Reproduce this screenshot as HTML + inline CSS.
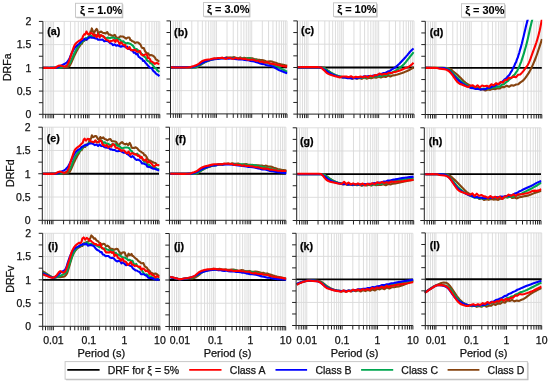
<!DOCTYPE html>
<html><head><meta charset="utf-8"><style>
html,body{margin:0;padding:0;background:#fff;}
svg{display:block;}
text{font-family:"Liberation Sans",Arial,sans-serif;fill:#111;stroke:#111;stroke-width:0.25px;}
.pl{font-size:10.7px;font-weight:bold;fill:#000;stroke:#000;}
.yl{font-size:10.5px;text-anchor:end;}
.yt{font-size:10.6px;text-anchor:middle;}
.xl{font-size:10.5px;text-anchor:middle;}
.pd{font-size:11px;}
.tt{font-size:10.95px;font-weight:bold;text-anchor:middle;fill:#000;stroke:#000;stroke-width:0.1px;}
.lg{font-size:10.5px;}
</style></head><body>
<svg width="550" height="384" viewBox="0 0 550 384">
<defs><clipPath id="cpa"><rect x="41.90" y="19.90" width="118.40" height="93.90"/></clipPath><clipPath id="cpb"><rect x="169.50" y="19.40" width="118.00" height="94.00"/></clipPath><clipPath id="cpc"><rect x="296.30" y="19.40" width="118.20" height="94.20"/></clipPath><clipPath id="cpd"><rect x="424.30" y="19.80" width="118.00" height="94.20"/></clipPath><clipPath id="cpe"><rect x="41.30" y="125.70" width="118.20" height="94.10"/></clipPath><clipPath id="cpf"><rect x="168.50" y="125.70" width="117.90" height="94.10"/></clipPath><clipPath id="cpg"><rect x="295.70" y="126.30" width="118.50" height="93.70"/></clipPath><clipPath id="cph"><rect x="423.30" y="126.30" width="118.20" height="93.70"/></clipPath><clipPath id="cpi"><rect x="41.70" y="231.80" width="118.70" height="94.00"/></clipPath><clipPath id="cpj"><rect x="168.30" y="232.00" width="117.90" height="94.00"/></clipPath><clipPath id="cpk"><rect x="295.10" y="231.80" width="118.30" height="93.20"/></clipPath><clipPath id="cpl"><rect x="424.30" y="231.40" width="117.90" height="93.70"/></clipPath></defs>
<rect width="550" height="384" fill="#fff"/>
<path d="M45.70 21.40V114.30M48.07 21.40V114.30M50.13 21.40V114.30M51.94 21.40V114.30M53.56 21.40V114.30M64.22 21.40V114.30M70.46 21.40V114.30M74.88 21.40V114.30M78.31 21.40V114.30M81.12 21.40V114.30M83.49 21.40V114.30M85.54 21.40V114.30M87.35 21.40V114.30M88.97 21.40V114.30M99.63 21.40V114.30M105.87 21.40V114.30M110.29 21.40V114.30M113.73 21.40V114.30M116.53 21.40V114.30M118.90 21.40V114.30M120.95 21.40V114.30M122.77 21.40V114.30M124.39 21.40V114.30M135.05 21.40V114.30M141.28 21.40V114.30M145.71 21.40V114.30M149.14 21.40V114.30M151.94 21.40V114.30M154.31 21.40V114.30M156.37 21.40V114.30M158.18 21.40V114.30M159.80 21.40V114.30M42.90 91.08H159.80M42.90 44.62H159.80M42.90 21.40H159.80" stroke="#d9d9d9" stroke-width="0.9" fill="none"/>
<path d="M173.29 20.90V113.90M175.66 20.90V113.90M177.70 20.90V113.90M179.51 20.90V113.90M181.12 20.90V113.90M191.75 20.90V113.90M197.96 20.90V113.90M202.37 20.90V113.90M205.79 20.90V113.90M208.59 20.90V113.90M210.95 20.90V113.90M213.00 20.90V113.90M214.80 20.90V113.90M216.42 20.90V113.90M227.04 20.90V113.90M233.25 20.90V113.90M237.66 20.90V113.90M241.08 20.90V113.90M243.88 20.90V113.90M246.24 20.90V113.90M248.29 20.90V113.90M250.09 20.90V113.90M251.71 20.90V113.90M262.33 20.90V113.90M268.55 20.90V113.90M272.96 20.90V113.90M276.38 20.90V113.90M279.17 20.90V113.90M281.53 20.90V113.90M283.58 20.90V113.90M285.39 20.90V113.90M287.00 20.90V113.90M170.50 90.65H287.00M170.50 44.15H287.00M170.50 20.90H287.00" stroke="#d9d9d9" stroke-width="0.9" fill="none"/>
<path d="M300.10 20.90V114.10M302.47 20.90V114.10M304.52 20.90V114.10M306.32 20.90V114.10M307.94 20.90V114.10M318.58 20.90V114.10M324.81 20.90V114.10M329.23 20.90V114.10M332.65 20.90V114.10M335.45 20.90V114.10M337.82 20.90V114.10M339.87 20.90V114.10M341.68 20.90V114.10M343.29 20.90V114.10M353.94 20.90V114.10M360.16 20.90V114.10M364.58 20.90V114.10M368.01 20.90V114.10M370.80 20.90V114.10M373.17 20.90V114.10M375.22 20.90V114.10M377.03 20.90V114.10M378.65 20.90V114.10M389.29 20.90V114.10M395.51 20.90V114.10M399.93 20.90V114.10M403.36 20.90V114.10M406.16 20.90V114.10M408.52 20.90V114.10M410.57 20.90V114.10M412.38 20.90V114.10M414.00 20.90V114.10M297.30 90.80H414.00M297.30 44.20H414.00M297.30 20.90H414.00" stroke="#d9d9d9" stroke-width="0.9" fill="none"/>
<path d="M428.09 21.30V114.50M430.46 21.30V114.50M432.50 21.30V114.50M434.31 21.30V114.50M435.92 21.30V114.50M446.55 21.30V114.50M452.76 21.30V114.50M457.17 21.30V114.50M460.59 21.30V114.50M463.39 21.30V114.50M465.75 21.30V114.50M467.80 21.30V114.50M469.60 21.30V114.50M471.22 21.30V114.50M481.84 21.30V114.50M488.05 21.30V114.50M492.46 21.30V114.50M495.88 21.30V114.50M498.68 21.30V114.50M501.04 21.30V114.50M503.09 21.30V114.50M504.89 21.30V114.50M506.51 21.30V114.50M517.13 21.30V114.50M523.35 21.30V114.50M527.76 21.30V114.50M531.18 21.30V114.50M533.97 21.30V114.50M536.33 21.30V114.50M538.38 21.30V114.50M540.19 21.30V114.50M541.80 21.30V114.50M425.30 91.20H541.80M425.30 44.60H541.80M425.30 21.30H541.80" stroke="#d9d9d9" stroke-width="0.9" fill="none"/>
<path d="M45.10 127.20V220.30M47.47 127.20V220.30M49.52 127.20V220.30M51.32 127.20V220.30M52.94 127.20V220.30M63.58 127.20V220.30M69.81 127.20V220.30M74.23 127.20V220.30M77.65 127.20V220.30M80.45 127.20V220.30M82.82 127.20V220.30M84.87 127.20V220.30M86.68 127.20V220.30M88.29 127.20V220.30M98.94 127.20V220.30M105.16 127.20V220.30M109.58 127.20V220.30M113.01 127.20V220.30M115.80 127.20V220.30M118.17 127.20V220.30M120.22 127.20V220.30M122.03 127.20V220.30M123.65 127.20V220.30M134.29 127.20V220.30M140.51 127.20V220.30M144.93 127.20V220.30M148.36 127.20V220.30M151.16 127.20V220.30M153.52 127.20V220.30M155.57 127.20V220.30M157.38 127.20V220.30M159.00 127.20V220.30M42.30 197.03H159.00M42.30 150.47H159.00M42.30 127.20H159.00" stroke="#d9d9d9" stroke-width="0.9" fill="none"/>
<path d="M172.29 127.20V220.30M174.65 127.20V220.30M176.70 127.20V220.30M178.50 127.20V220.30M180.11 127.20V220.30M190.73 127.20V220.30M196.94 127.20V220.30M201.34 127.20V220.30M204.76 127.20V220.30M207.55 127.20V220.30M209.91 127.20V220.30M211.96 127.20V220.30M213.76 127.20V220.30M215.38 127.20V220.30M225.99 127.20V220.30M232.20 127.20V220.30M236.61 127.20V220.30M240.02 127.20V220.30M242.82 127.20V220.30M245.18 127.20V220.30M247.22 127.20V220.30M249.02 127.20V220.30M250.64 127.20V220.30M261.25 127.20V220.30M267.46 127.20V220.30M271.87 127.20V220.30M275.29 127.20V220.30M278.08 127.20V220.30M280.44 127.20V220.30M282.48 127.20V220.30M284.29 127.20V220.30M285.90 127.20V220.30M169.50 197.03H285.90M169.50 150.47H285.90M169.50 127.20H285.90" stroke="#d9d9d9" stroke-width="0.9" fill="none"/>
<path d="M299.51 127.80V220.50M301.88 127.80V220.50M303.93 127.80V220.50M305.75 127.80V220.50M307.37 127.80V220.50M318.04 127.80V220.50M324.28 127.80V220.50M328.71 127.80V220.50M332.14 127.80V220.50M334.95 127.80V220.50M337.32 127.80V220.50M339.38 127.80V220.50M341.19 127.80V220.50M342.81 127.80V220.50M353.48 127.80V220.50M359.72 127.80V220.50M364.15 127.80V220.50M367.59 127.80V220.50M370.39 127.80V220.50M372.77 127.80V220.50M374.82 127.80V220.50M376.63 127.80V220.50M378.26 127.80V220.50M388.93 127.80V220.50M395.17 127.80V220.50M399.60 127.80V220.50M403.03 127.80V220.50M405.84 127.80V220.50M408.21 127.80V220.50M410.27 127.80V220.50M412.08 127.80V220.50M413.70 127.80V220.50M296.70 197.32H413.70M296.70 150.97H413.70M296.70 127.80H413.70" stroke="#d9d9d9" stroke-width="0.9" fill="none"/>
<path d="M427.10 127.80V220.50M429.47 127.80V220.50M431.52 127.80V220.50M433.32 127.80V220.50M434.94 127.80V220.50M445.58 127.80V220.50M451.81 127.80V220.50M456.23 127.80V220.50M459.65 127.80V220.50M462.45 127.80V220.50M464.82 127.80V220.50M466.87 127.80V220.50M468.68 127.80V220.50M470.29 127.80V220.50M480.94 127.80V220.50M487.16 127.80V220.50M491.58 127.80V220.50M495.01 127.80V220.50M497.80 127.80V220.50M500.17 127.80V220.50M502.22 127.80V220.50M504.03 127.80V220.50M505.65 127.80V220.50M516.29 127.80V220.50M522.51 127.80V220.50M526.93 127.80V220.50M530.36 127.80V220.50M533.16 127.80V220.50M535.52 127.80V220.50M537.57 127.80V220.50M539.38 127.80V220.50M541.00 127.80V220.50M424.30 197.32H541.00M424.30 150.97H541.00M424.30 127.80H541.00" stroke="#d9d9d9" stroke-width="0.9" fill="none"/>
<path d="M45.51 233.30V326.30M47.89 233.30V326.30M49.95 233.30V326.30M51.76 233.30V326.30M53.39 233.30V326.30M64.08 233.30V326.30M70.33 233.30V326.30M74.76 233.30V326.30M78.20 233.30V326.30M81.02 233.30V326.30M83.39 233.30V326.30M85.45 233.30V326.30M87.27 233.30V326.30M88.89 233.30V326.30M99.58 233.30V326.30M105.83 233.30V326.30M110.27 233.30V326.30M113.71 233.30V326.30M116.52 233.30V326.30M118.90 233.30V326.30M120.96 233.30V326.30M122.77 233.30V326.30M124.40 233.30V326.30M135.08 233.30V326.30M141.34 233.30V326.30M145.77 233.30V326.30M149.21 233.30V326.30M152.02 233.30V326.30M154.40 233.30V326.30M156.46 233.30V326.30M158.28 233.30V326.30M159.90 233.30V326.30M42.70 303.05H159.90M42.70 256.55H159.90M42.70 233.30H159.90" stroke="#d9d9d9" stroke-width="0.9" fill="none"/>
<path d="M172.09 233.50V326.50M174.45 233.50V326.50M176.50 233.50V326.50M178.30 233.50V326.50M179.91 233.50V326.50M190.53 233.50V326.50M196.74 233.50V326.50M201.14 233.50V326.50M204.56 233.50V326.50M207.35 233.50V326.50M209.71 233.50V326.50M211.76 233.50V326.50M213.56 233.50V326.50M215.18 233.50V326.50M225.79 233.50V326.50M232.00 233.50V326.50M236.41 233.50V326.50M239.82 233.50V326.50M242.62 233.50V326.50M244.98 233.50V326.50M247.02 233.50V326.50M248.82 233.50V326.50M250.44 233.50V326.50M261.05 233.50V326.50M267.26 233.50V326.50M271.67 233.50V326.50M275.09 233.50V326.50M277.88 233.50V326.50M280.24 233.50V326.50M282.28 233.50V326.50M284.09 233.50V326.50M285.70 233.50V326.50M169.30 303.25H285.70M169.30 256.75H285.70M169.30 233.50H285.70" stroke="#d9d9d9" stroke-width="0.9" fill="none"/>
<path d="M298.90 233.30V325.50M301.27 233.30V325.50M303.32 233.30V325.50M305.13 233.30V325.50M306.75 233.30V325.50M317.40 233.30V325.50M323.63 233.30V325.50M328.05 233.30V325.50M331.48 233.30V325.50M334.28 233.30V325.50M336.65 233.30V325.50M338.71 233.30V325.50M340.52 233.30V325.50M342.13 233.30V325.50M352.79 233.30V325.50M359.02 233.30V325.50M363.44 233.30V325.50M366.87 233.30V325.50M369.67 233.30V325.50M372.04 233.30V325.50M374.09 233.30V325.50M375.90 233.30V325.50M377.52 233.30V325.50M388.17 233.30V325.50M394.40 233.30V325.50M398.82 233.30V325.50M402.25 233.30V325.50M405.05 233.30V325.50M407.42 233.30V325.50M409.47 233.30V325.50M411.28 233.30V325.50M412.90 233.30V325.50M296.10 302.45H412.90M296.10 256.35H412.90M296.10 233.30H412.90" stroke="#d9d9d9" stroke-width="0.9" fill="none"/>
<path d="M428.09 232.90V325.60M430.45 232.90V325.60M432.50 232.90V325.60M434.30 232.90V325.60M435.91 232.90V325.60M446.53 232.90V325.60M452.74 232.90V325.60M457.14 232.90V325.60M460.56 232.90V325.60M463.35 232.90V325.60M465.71 232.90V325.60M467.76 232.90V325.60M469.56 232.90V325.60M471.18 232.90V325.60M481.79 232.90V325.60M488.00 232.90V325.60M492.41 232.90V325.60M495.82 232.90V325.60M498.62 232.90V325.60M500.98 232.90V325.60M503.02 232.90V325.60M504.82 232.90V325.60M506.44 232.90V325.60M517.05 232.90V325.60M523.26 232.90V325.60M527.67 232.90V325.60M531.09 232.90V325.60M533.88 232.90V325.60M536.24 232.90V325.60M538.28 232.90V325.60M540.09 232.90V325.60M541.70 232.90V325.60M425.30 302.43H541.70M425.30 256.07H541.70M425.30 232.90H541.70" stroke="#d9d9d9" stroke-width="0.9" fill="none"/>
<path d="M42.90 67.85H159.80" stroke="#000" stroke-width="1.8" fill="none"/>
<path d="M170.50 67.40H287.00" stroke="#000" stroke-width="1.8" fill="none"/>
<path d="M297.30 67.50H414.00" stroke="#000" stroke-width="1.8" fill="none"/>
<path d="M425.30 67.90H541.80" stroke="#000" stroke-width="1.8" fill="none"/>
<path d="M42.30 173.75H159.00" stroke="#000" stroke-width="1.8" fill="none"/>
<path d="M169.50 173.75H285.90" stroke="#000" stroke-width="1.8" fill="none"/>
<path d="M296.70 174.15H413.70" stroke="#000" stroke-width="1.8" fill="none"/>
<path d="M424.30 174.15H541.00" stroke="#000" stroke-width="1.8" fill="none"/>
<path d="M42.70 279.80H159.90" stroke="#000" stroke-width="1.8" fill="none"/>
<path d="M169.30 280.00H285.70" stroke="#000" stroke-width="1.8" fill="none"/>
<path d="M296.10 279.40H412.90" stroke="#000" stroke-width="1.8" fill="none"/>
<path d="M425.30 279.25H541.70" stroke="#000" stroke-width="1.8" fill="none"/>
<path d="M42.78 67.83 L44.38 67.80 L45.98 67.76 L47.58 67.73 L49.18 67.69 L50.78 67.65 L52.38 67.62 L53.98 67.58 L55.58 67.53 L57.18 67.49 L58.78 67.43 L60.38 67.38 L61.97 67.31 L63.57 67.24 L65.17 67.15 L66.76 66.97 L68.32 66.63 L69.69 65.79 L70.46 64.39 L71.16 62.95 L71.82 61.50 L72.46 60.03 L73.09 58.56 L73.73 57.10 L74.40 55.64 L75.09 54.20 L75.79 52.76 L76.54 51.34 L77.31 49.94 L78.09 48.55 L78.90 47.26 L79.75 46.05 L80.67 44.38 L81.66 43.97 L82.74 41.68 L83.88 41.02 L85.06 39.56 L86.30 39.92 L87.68 37.63 L88.84 37.77 L89.43 34.47 L90.03 34.34 L90.55 31.35 L91.09 31.41 L91.79 28.40 L93.04 31.57 L94.01 33.10 L95.38 30.61 L96.61 28.92 L97.40 30.05 L98.13 33.56 L99.66 32.27 L101.18 31.54 L102.75 32.81 L104.30 33.10 L105.70 33.49 L107.20 32.08 L108.75 34.66 L110.24 34.64 L111.66 35.58 L113.18 35.96 L114.74 34.85 L116.18 37.34 L117.35 37.88 L118.71 37.84 L120.13 36.39 L121.59 36.45 L123.16 36.57 L124.67 37.63 L126.19 38.66 L127.77 37.48 L129.34 37.51 L130.44 39.99 L131.29 40.18 L132.23 41.22 L133.47 41.46 L135.06 42.98 L136.64 42.38 L138.13 42.45 L139.40 43.62 L140.62 44.79 L141.79 47.56 L142.90 48.22 L143.87 48.09 L144.86 50.84 L145.88 52.27 L146.95 53.46 L148.16 53.25 L149.55 55.57 L150.99 54.96 L152.41 55.46 L153.74 56.31 L154.85 57.53 L155.96 59.45 L157.23 59.95 L158.58 61.19 L159.38 61.54" stroke="#86430f" stroke-width="2.1" fill="none" stroke-linejoin="round" clip-path="url(#cpa)"/>
<path d="M42.78 67.83 L44.38 67.82 L45.98 67.81 L47.58 67.81 L49.18 67.79 L50.78 67.78 L52.38 67.77 L53.98 67.75 L55.58 67.72 L57.18 67.68 L58.78 67.61 L60.37 67.43 L61.94 67.12 L63.51 66.83 L65.08 66.50 L66.58 65.95 L67.95 65.12 L69.09 64.00 L70.07 62.74 L70.78 61.31 L71.44 59.85 L72.06 58.37 L72.70 56.91 L73.36 55.45 L74.04 54.00 L74.73 52.56 L75.45 51.13 L76.20 49.72 L77.01 48.33 L77.85 46.97 L78.75 45.70 L79.78 44.18 L80.84 43.61 L81.95 41.97 L83.11 41.26 L84.33 39.92 L85.59 38.16 L86.90 38.25 L88.29 37.39 L89.71 36.80 L91.19 36.05 L92.75 36.55 L94.34 36.16 L95.91 34.82 L97.47 35.99 L98.94 34.48 L100.49 35.32 L102.00 36.21 L103.39 36.36 L104.84 37.57 L106.37 38.38 L107.91 37.49 L109.51 38.18 L111.11 37.84 L112.71 37.50 L114.30 37.71 L115.85 39.00 L117.35 38.63 L118.78 39.35 L120.18 39.69 L121.61 42.08 L123.12 41.14 L124.68 42.64 L126.24 43.49 L127.80 42.92 L129.32 43.44 L130.69 43.93 L131.81 44.96 L132.83 45.67 L133.85 47.11 L135.13 49.42 L136.59 49.06 L137.87 50.15 L139.06 52.67 L140.18 51.87 L141.29 53.80 L142.41 54.21 L143.54 56.19 L144.67 56.80 L145.80 57.60 L146.93 60.49 L148.06 61.23 L149.19 61.26 L150.32 63.25 L151.46 63.29 L152.59 64.70 L153.72 66.66 L154.85 67.58 L155.98 68.24 L157.11 70.13 L158.24 71.00 L159.38 72.08" stroke="#00a64f" stroke-width="2.1" fill="none" stroke-linejoin="round" clip-path="url(#cpa)"/>
<path d="M42.78 67.83 L44.38 67.83 L45.98 67.83 L47.58 67.83 L49.18 67.82 L50.78 67.81 L52.38 67.79 L53.98 67.74 L55.58 67.69 L57.17 67.54 L58.63 66.89 L60.07 66.17 L61.49 65.44 L62.92 64.74 L64.38 64.07 L65.73 63.21 L66.98 62.21 L68.01 60.99 L68.87 59.64 L69.58 58.20 L70.21 56.73 L70.82 55.25 L71.47 53.79 L72.17 52.35 L72.91 50.94 L73.72 49.55 L74.58 48.20 L75.58 46.96 L76.72 45.83 L77.89 44.75 L79.08 43.74 L80.29 42.65 L81.52 41.12 L82.84 40.42 L84.20 38.93 L85.64 39.49 L87.12 39.35 L88.66 37.55 L90.24 37.16 L91.83 37.62 L93.42 37.79 L95.00 38.33 L96.56 38.18 L98.09 39.81 L99.61 39.64 L101.15 39.75 L102.70 39.63 L104.24 41.38 L105.77 40.79 L107.30 40.84 L108.80 41.72 L110.27 43.15 L111.67 43.60 L113.09 45.18 L114.60 44.34 L116.18 45.79 L117.76 45.10 L119.34 46.03 L120.93 46.81 L122.50 46.04 L124.06 46.22 L125.60 47.15 L127.12 46.67 L128.55 48.97 L129.84 48.93 L131.09 50.38 L132.43 50.33 L133.79 52.70 L135.09 52.60 L136.34 54.38 L137.51 53.96 L138.64 56.87 L139.75 57.43 L140.87 58.54 L142.00 58.80 L143.13 61.06 L144.26 60.76 L145.39 62.67 L146.52 63.83 L147.65 65.27 L148.78 66.47 L149.91 67.76 L151.04 67.96 L152.16 68.90 L153.29 70.94 L154.44 71.78 L155.60 73.20 L156.79 74.35 L157.99 74.82 L159.18 76.06 L159.38 76.29" stroke="#0000ff" stroke-width="2.1" fill="none" stroke-linejoin="round" clip-path="url(#cpa)"/>
<path d="M42.78 67.83 L44.38 67.86 L45.98 67.89 L47.58 67.92 L49.18 67.94 L50.78 67.94 L52.38 67.94 L53.98 67.86 L55.56 67.60 L56.85 66.66 L58.26 65.89 L59.81 65.52 L61.38 65.83 L62.93 66.23 L64.48 66.65 L65.99 66.15 L67.20 65.10 L67.99 63.71 L68.64 62.24 L69.18 60.74 L69.70 59.23 L70.22 57.71 L70.73 56.19 L71.23 54.67 L71.73 53.15 L72.24 51.64 L72.75 50.12 L73.25 48.60 L73.77 47.09 L74.41 45.62 L75.19 44.23 L76.27 43.04 L77.47 41.99 L78.73 41.00 L80.03 40.30 L81.21 39.39 L82.19 38.70 L83.15 35.95 L84.17 34.39 L85.21 34.55 L86.48 31.51 L87.86 34.10 L89.34 33.95 L90.86 32.95 L92.45 33.74 L93.68 35.57 L94.99 34.59 L96.57 37.19 L98.12 34.18 L99.61 37.37 L101.07 35.07 L102.49 35.89 L103.81 36.79 L105.08 38.34 L106.45 39.97 L107.93 40.23 L109.53 41.88 L110.96 40.99 L112.43 40.78 L113.92 39.94 L115.32 41.93 L116.74 39.87 L118.18 41.30 L119.61 44.03 L121.05 42.26 L122.49 43.89 L123.86 45.22 L125.11 44.81 L126.41 47.91 L127.94 48.92 L129.50 46.99 L130.95 49.93 L132.38 50.24 L133.79 50.16 L135.23 49.70 L136.71 51.72 L138.25 51.76 L139.76 50.76 L141.20 54.45 L142.45 55.00 L143.73 55.42 L145.31 54.25 L146.83 54.64 L147.92 58.07 L148.87 57.90 L149.85 58.95 L150.89 61.31 L152.00 61.75 L153.32 62.70 L154.89 63.84 L156.48 62.75 L158.03 63.69 L159.38 63.96" stroke="#ff0000" stroke-width="2.1" fill="none" stroke-linejoin="round" clip-path="url(#cpa)"/>
<path d="M170.25 67.40 L172.25 67.41 L174.25 67.41 L176.25 67.41 L178.25 67.42 L180.25 67.42 L182.25 67.42 L184.25 67.43 L186.25 67.42 L188.25 67.42 L190.25 67.42 L192.25 67.41 L194.25 67.41 L196.25 67.43 L198.01 66.48 L199.69 65.39 L201.35 64.28 L203.08 63.27 L204.83 62.31 L206.62 61.43 L208.49 60.71 L210.38 60.11 L212.32 59.25 L214.28 58.87 L216.25 58.90 L218.23 58.27 L220.22 58.32 L222.21 57.84 L224.21 58.22 L226.20 57.39 L228.20 57.61 L230.20 57.49 L232.20 57.48 L234.20 57.12 L236.19 57.82 L238.19 58.35 L240.19 57.43 L242.18 58.62 L244.18 57.84 L246.18 58.29 L248.18 57.93 L250.18 58.13 L252.17 58.28 L254.15 59.05 L256.12 59.33 L258.09 59.72 L260.07 59.90 L262.05 60.00 L264.03 60.56 L266.01 61.20 L267.99 61.43 L269.97 61.28 L271.92 61.56 L273.85 62.36 L275.76 62.80 L277.68 63.40 L279.61 63.92 L281.54 64.42 L283.49 64.88 L285.45 65.27 L287.38 65.53" stroke="#86430f" stroke-width="2.1" fill="none" stroke-linejoin="round" clip-path="url(#cpb)"/>
<path d="M170.25 67.40 L172.25 67.41 L174.25 67.41 L176.25 67.41 L178.25 67.42 L180.25 67.42 L182.25 67.42 L184.25 67.42 L186.25 67.42 L188.25 67.42 L190.25 67.41 L192.25 67.40 L194.25 67.39 L196.23 67.11 L197.99 66.16 L199.69 65.10 L201.38 64.04 L203.08 62.99 L204.86 62.07 L206.69 61.27 L208.58 60.62 L210.50 60.11 L212.44 59.36 L214.41 58.90 L216.39 58.71 L218.38 58.95 L220.37 58.20 L222.36 58.21 L224.36 57.95 L226.36 58.22 L228.35 58.02 L230.35 57.79 L232.35 58.31 L234.35 57.82 L236.35 58.39 L238.35 58.25 L240.35 58.21 L242.35 58.41 L244.35 58.61 L246.35 58.73 L248.34 58.25 L250.34 58.39 L252.32 58.93 L254.27 59.74 L256.20 59.77 L258.12 60.66 L260.05 61.20 L261.99 61.76 L263.93 62.10 L265.86 62.83 L267.79 63.04 L269.72 63.72 L271.63 64.31 L273.51 64.93 L275.32 65.71 L277.10 66.63 L278.89 67.53 L280.68 68.43 L282.46 69.32 L284.25 70.22 L286.04 71.11 L287.38 71.78" stroke="#00a64f" stroke-width="2.1" fill="none" stroke-linejoin="round" clip-path="url(#cpb)"/>
<path d="M170.25 67.40 L172.25 67.39 L174.25 67.39 L176.25 67.38 L178.25 67.37 L180.25 67.36 L182.25 67.35 L184.25 67.34 L186.25 67.32 L188.25 67.29 L190.25 67.26 L192.25 67.18 L194.16 66.59 L196.05 65.94 L197.89 65.15 L199.68 64.25 L201.45 63.32 L203.23 62.41 L205.07 61.63 L206.94 60.93 L208.86 60.35 L210.79 59.80 L212.75 59.51 L214.71 59.27 L216.69 58.90 L218.68 58.61 L220.67 58.30 L222.67 58.41 L224.67 58.30 L226.67 58.14 L228.67 58.65 L230.67 58.51 L232.66 58.46 L234.66 59.06 L236.65 59.08 L238.64 59.42 L240.63 59.46 L242.62 59.40 L244.61 60.00 L246.60 60.08 L248.58 60.29 L250.55 60.92 L252.51 61.21 L254.46 61.46 L256.38 62.25 L258.31 62.71 L260.24 63.40 L262.15 64.04 L264.06 64.15 L265.99 65.01 L267.94 65.40 L269.88 65.63 L271.78 66.28 L273.64 67.02 L275.40 68.08 L277.17 69.03 L278.94 69.96 L280.75 70.82 L282.60 71.56 L284.47 72.28 L286.35 72.97 L287.38 73.34" stroke="#0000ff" stroke-width="2.1" fill="none" stroke-linejoin="round" clip-path="url(#cpb)"/>
<path d="M170.25 67.40 L172.25 67.42 L174.25 67.43 L176.25 67.45 L178.25 67.46 L180.25 67.47 L182.25 67.47 L184.25 67.47 L186.25 67.45 L188.25 67.42 L190.25 67.29 L192.07 66.48 L194.00 65.96 L195.91 65.37 L197.72 64.52 L199.34 63.35 L200.86 62.05 L202.55 60.97 L204.42 60.26 L206.36 59.79 L208.34 59.48 L210.31 59.21 L212.28 58.75 L214.25 58.34 L216.22 58.50 L218.20 58.00 L220.20 58.05 L222.19 57.69 L224.15 58.33 L226.15 58.91 L228.14 57.94 L230.14 58.02 L232.14 58.70 L234.14 58.61 L236.14 58.02 L238.14 58.71 L240.13 58.26 L242.13 58.75 L244.13 58.83 L246.12 59.22 L248.11 59.67 L250.09 59.73 L252.06 59.45 L254.03 59.97 L255.99 60.75 L257.95 60.61 L259.91 61.78 L261.88 61.47 L263.85 62.44 L265.82 62.25 L267.79 62.39 L269.76 63.55 L271.73 63.83 L273.67 64.16 L275.61 64.50 L277.55 64.95 L279.50 65.39 L281.46 65.78 L283.44 66.11 L285.42 66.38 L287.38 66.62" stroke="#ff0000" stroke-width="2.1" fill="none" stroke-linejoin="round" clip-path="url(#cpb)"/>
<path d="M297.25 67.50 L299.65 67.50 L302.05 67.50 L304.45 67.50 L306.85 67.50 L309.25 67.49 L311.65 67.49 L314.05 67.49 L316.45 67.49 L318.85 67.50 L321.25 67.50 L323.65 67.44 L325.57 68.87 L327.50 70.31 L329.46 71.69 L331.45 73.03 L333.55 74.19 L335.72 75.23 L337.95 76.10 L340.25 76.74 L342.60 77.55 L344.98 77.19 L347.37 78.00 L349.76 77.87 L352.15 78.88 L354.55 77.85 L356.95 78.70 L359.35 78.00 L361.74 78.87 L364.14 77.51 L366.54 78.68 L368.93 77.68 L371.33 78.32 L373.73 77.32 L376.12 77.77 L378.51 76.78 L380.90 77.49 L383.29 76.52 L385.68 77.06 L388.06 75.61 L390.44 76.56 L392.80 75.41 L395.15 75.09 L397.47 74.44 L399.76 73.74 L402.04 72.97 L404.29 72.14 L406.52 71.26 L408.73 70.31 L410.84 69.17 L412.89 67.93 L413.59 67.50" stroke="#86430f" stroke-width="2.1" fill="none" stroke-linejoin="round" clip-path="url(#cpc)"/>
<path d="M297.25 67.50 L299.65 67.50 L302.05 67.50 L304.45 67.50 L306.85 67.50 L309.25 67.49 L311.65 67.49 L314.05 67.49 L316.45 67.49 L318.85 67.50 L321.25 67.49 L323.61 67.95 L325.63 69.23 L327.62 70.58 L329.59 71.95 L331.62 73.24 L333.76 74.31 L335.99 75.21 L338.25 76.01 L340.57 76.60 L342.94 77.15 L345.32 77.08 L347.71 77.73 L350.10 77.43 L352.50 78.16 L354.90 77.70 L357.29 78.11 L359.69 77.44 L362.09 77.92 L364.48 77.22 L366.87 77.60 L369.26 76.66 L371.65 77.18 L374.04 76.35 L376.43 76.52 L378.81 75.92 L381.20 76.18 L383.56 75.02 L385.91 75.07 L388.22 74.03 L390.48 73.50 L392.66 72.23 L394.76 71.30 L396.80 69.99 L398.78 68.63 L400.68 67.17 L402.50 65.60 L404.21 63.91 L405.78 62.10 L407.27 60.22 L408.75 58.33 L410.24 56.44 L411.72 54.56 L413.21 52.67 L413.59 52.19" stroke="#00a64f" stroke-width="2.1" fill="none" stroke-linejoin="round" clip-path="url(#cpc)"/>
<path d="M297.25 67.50 L299.65 67.50 L302.05 67.49 L304.45 67.48 L306.85 67.48 L309.25 67.47 L311.65 67.47 L314.05 67.47 L316.45 67.49 L318.85 67.50 L321.25 67.58 L323.22 68.95 L325.30 70.14 L327.24 71.57 L329.25 72.88 L331.36 74.02 L333.55 74.99 L335.80 75.84 L338.09 76.54 L340.45 76.97 L342.82 77.38 L345.20 77.44 L347.58 78.23 L349.97 77.87 L352.37 78.54 L354.77 78.08 L357.16 78.14 L359.52 77.40 L361.87 77.18 L364.23 76.28 L366.62 76.57 L369.01 75.98 L371.40 76.06 L373.77 75.43 L376.14 75.45 L378.49 74.46 L380.82 74.17 L383.13 73.13 L385.42 72.97 L387.67 71.61 L389.83 71.04 L391.89 69.45 L393.89 68.37 L395.84 66.90 L397.68 65.37 L399.40 63.68 L401.02 61.92 L402.66 60.16 L404.30 58.41 L405.94 56.66 L407.52 54.86 L409.03 52.99 L410.58 51.15 L412.33 49.52 L413.59 48.44" stroke="#0000ff" stroke-width="2.1" fill="none" stroke-linejoin="round" clip-path="url(#cpc)"/>
<path d="M297.25 67.19 L299.65 67.18 L302.05 67.16 L304.45 67.15 L306.85 67.13 L309.25 67.12 L311.65 67.12 L314.05 67.12 L316.45 67.15 L318.85 67.18 L321.24 67.44 L322.91 69.16 L324.62 70.85 L326.33 72.53 L328.34 73.84 L330.53 74.84 L332.81 75.57 L335.12 76.23 L337.44 76.84 L339.74 77.51 L342.05 76.56 L344.35 76.49 L346.49 76.62 L348.70 77.24 L351.00 76.22 L353.37 77.73 L355.76 76.76 L358.16 77.31 L360.56 76.46 L362.96 77.33 L365.36 76.30 L367.75 77.26 L370.15 75.77 L372.53 76.60 L374.90 75.08 L377.12 75.26 L379.46 73.51 L381.85 74.68 L384.24 73.71 L386.62 74.06 L388.99 72.68 L391.33 73.12 L393.68 72.15 L396.02 71.71 L398.33 71.06 L400.58 70.21 L402.78 69.25 L404.98 68.29 L407.21 67.42 L409.38 66.39 L411.30 64.95 L413.06 63.32 L413.59 62.81" stroke="#ff0000" stroke-width="2.1" fill="none" stroke-linejoin="round" clip-path="url(#cpc)"/>
<path d="M425.25 67.89 L427.65 67.88 L430.05 67.87 L432.45 67.86 L434.85 67.85 L437.25 67.84 L439.65 67.84 L442.05 67.84 L444.45 67.87 L446.85 67.94 L449.21 68.35 L451.22 69.66 L453.03 71.23 L454.89 72.76 L456.74 74.29 L458.52 75.90 L460.25 77.56 L461.92 79.28 L463.66 80.94 L465.44 82.54 L467.35 84.00 L469.41 85.09 L471.55 86.63 L473.74 86.61 L476.03 88.53 L478.37 87.88 L480.70 89.70 L483.04 89.26 L485.43 90.54 L487.83 89.52 L490.23 89.90 L492.61 88.82 L494.97 89.14 L497.32 88.29 L499.65 88.51 L501.97 86.95 L504.31 87.10 L506.66 85.71 L509.05 86.77 L511.44 85.18 L513.80 85.64 L516.12 84.49 L518.35 84.17 L520.43 82.40 L522.33 81.23 L524.01 79.45 L525.57 77.63 L526.96 75.67 L528.29 73.67 L529.53 71.62 L530.64 69.49 L531.69 67.33 L532.70 65.15 L533.64 62.95 L534.55 60.73 L535.44 58.50 L536.29 56.25 L537.10 54.00 L537.88 51.73 L538.64 49.45 L539.39 47.17 L540.14 44.89 L540.87 42.60 L541.58 40.31 L541.96 38.99" stroke="#86430f" stroke-width="2.1" fill="none" stroke-linejoin="round" clip-path="url(#cpd)"/>
<path d="M425.25 67.89 L427.65 67.87 L430.05 67.84 L432.45 67.82 L434.85 67.80 L437.25 67.80 L439.65 67.80 L442.05 67.85 L444.45 67.97 L446.83 68.22 L448.92 69.41 L450.73 70.98 L452.36 72.74 L454.03 74.47 L455.70 76.19 L457.39 77.89 L459.14 79.53 L460.95 81.11 L462.85 82.58 L464.81 83.96 L466.84 85.25 L468.93 86.37 L471.17 87.45 L473.51 87.43 L475.87 88.66 L478.24 88.33 L480.63 89.24 L483.03 88.65 L485.43 89.08 L487.81 88.25 L490.17 88.34 L492.53 87.42 L494.89 87.37 L497.25 86.59 L499.58 86.62 L501.75 84.76 L503.81 84.29 L505.76 82.42 L507.63 81.17 L509.45 79.29 L511.25 78.13 L512.99 75.82 L514.58 74.72 L516.06 72.36 L517.31 70.92 L518.38 68.01 L519.38 66.46 L520.29 63.76 L521.13 61.82 L521.92 59.37 L522.68 57.22 L523.41 54.90 L524.11 52.60 L524.79 50.30 L525.44 47.99 L526.09 45.68 L526.70 43.36 L527.27 41.03 L527.81 38.69 L528.35 36.35 L528.87 34.01 L529.38 31.66 L529.90 29.32 L530.42 26.98 L530.99 24.65 L531.57 22.32 L532.16 19.99 L532.69 17.65 L533.15 15.29 L533.17 15.16" stroke="#00a64f" stroke-width="2.1" fill="none" stroke-linejoin="round" clip-path="url(#cpd)"/>
<path d="M425.25 67.89 L427.65 67.91 L430.05 67.92 L432.45 67.93 L434.85 67.94 L437.25 67.96 L439.65 67.98 L442.05 68.04 L444.45 68.16 L446.66 69.08 L448.76 70.25 L450.48 71.92 L452.07 73.72 L453.58 75.58 L455.22 77.33 L456.92 79.03 L458.70 80.64 L460.56 82.16 L462.50 83.57 L464.49 84.90 L466.58 86.09 L468.78 87.03 L471.04 87.91 L473.35 88.27 L475.72 89.00 L478.11 88.99 L480.50 89.42 L482.90 89.24 L485.24 89.21 L487.53 87.99 L489.81 87.76 L492.08 86.53 L494.34 85.99 L496.56 84.68 L498.73 84.09 L500.76 82.41 L502.68 81.52 L504.54 79.41 L506.29 78.28 L507.98 76.17 L509.47 74.70 L510.83 72.21 L511.98 70.60 L513.08 67.93 L514.14 66.37 L515.16 63.60 L516.13 61.98 L517.01 59.14 L517.81 57.48 L518.55 54.84 L519.25 52.79 L519.93 50.19 L520.60 48.14 L521.24 45.68 L521.85 43.45 L522.44 41.06 L523.01 38.75 L523.58 36.41 L524.14 34.07 L524.69 31.74 L525.24 29.40 L525.79 27.06 L526.35 24.73 L526.95 22.41 L527.61 20.10 L528.22 17.78 L528.80 15.45 L528.88 15.16" stroke="#0000ff" stroke-width="2.1" fill="none" stroke-linejoin="round" clip-path="url(#cpd)"/>
<path d="M425.25 67.89 L427.65 67.87 L430.05 67.85 L432.45 67.85 L434.85 67.88 L437.25 67.98 L439.55 68.65 L441.94 68.90 L444.33 69.16 L446.65 69.76 L448.71 70.98 L450.46 72.63 L451.99 74.48 L453.39 76.43 L454.69 78.45 L456.10 80.39 L457.65 82.22 L459.55 83.68 L461.77 84.59 L464.00 85.48 L466.23 86.38 L468.51 87.07 L470.42 85.75 L472.82 85.19 L475.17 87.27 L477.51 85.26 L479.67 87.54 L482.04 85.50 L484.39 86.19 L486.75 85.71 L489.11 86.71 L491.39 84.30 L493.68 85.37 L496.02 83.18 L498.36 84.21 L500.66 81.96 L502.85 82.58 L504.85 80.06 L506.84 79.95 L508.91 77.67 L511.21 77.91 L513.60 76.62 L515.92 77.30 L518.14 74.82 L520.21 74.48 L522.01 72.61 L523.52 70.80 L524.96 68.88 L526.42 66.98 L527.77 64.99 L528.83 62.84 L529.77 60.63 L530.62 58.39 L531.42 56.13 L532.22 53.86 L533.04 51.61 L533.88 49.36 L534.72 47.11 L535.54 44.85 L536.32 42.59 L537.05 40.30 L537.74 38.00 L538.38 35.69 L538.98 33.36 L539.56 31.03 L540.07 28.69 L540.55 26.34 L541.01 23.98 L541.46 21.62 L541.88 19.26 L542.27 16.89 L542.55 15.16" stroke="#ff0000" stroke-width="2.1" fill="none" stroke-linejoin="round" clip-path="url(#cpd)"/>
<path d="M42.78 173.78 L44.38 173.75 L45.98 173.73 L47.58 173.71 L49.18 173.69 L50.78 173.67 L52.38 173.65 L53.98 173.62 L55.58 173.59 L57.18 173.57 L58.78 173.52 L60.38 173.47 L61.98 173.41 L63.58 173.35 L65.17 173.25 L66.76 173.08 L68.33 172.73 L69.69 171.89 L70.46 170.49 L71.16 169.05 L71.82 167.60 L72.46 166.13 L73.09 164.66 L73.74 163.19 L74.41 161.74 L75.09 160.29 L75.79 158.86 L76.54 157.44 L77.31 156.04 L78.09 154.56 L78.90 153.40 L79.76 151.64 L80.67 150.05 L81.67 150.18 L82.76 148.11 L83.91 146.42 L85.08 146.97 L86.25 144.44 L87.48 144.19 L88.51 143.46 L89.31 140.91 L89.92 139.04 L90.49 139.56 L91.10 138.14 L91.88 135.34 L93.01 137.22 L93.89 136.81 L95.29 135.98 L96.53 136.35 L97.61 138.61 L98.73 139.59 L100.30 136.99 L101.67 138.40 L103.25 137.31 L104.63 139.08 L105.91 139.35 L107.39 140.48 L108.95 139.28 L110.43 139.12 L111.84 141.24 L113.37 141.26 L114.94 141.52 L116.27 141.92 L117.52 144.47 L119.04 144.96 L120.46 143.20 L122.03 142.12 L123.62 143.61 L125.10 144.45 L126.68 143.63 L128.21 145.17 L129.76 142.98 L130.85 144.91 L131.62 147.73 L132.58 147.84 L134.14 148.00 L135.73 147.28 L137.33 148.28 L138.69 150.15 L139.96 151.13 L141.14 151.81 L142.26 152.72 L143.31 153.12 L144.28 155.18 L145.27 155.06 L146.32 156.50 L147.45 159.05 L148.74 160.15 L150.13 160.58 L151.58 161.40 L153.01 162.32 L154.32 162.82 L155.57 163.00 L156.92 164.92 L158.36 165.12 L159.38 165.65" stroke="#86430f" stroke-width="2.1" fill="none" stroke-linejoin="round" clip-path="url(#cpe)"/>
<path d="M42.78 173.78 L44.38 173.76 L45.98 173.75 L47.58 173.74 L49.18 173.73 L50.78 173.72 L52.38 173.70 L53.98 173.68 L55.58 173.66 L57.18 173.63 L58.78 173.57 L60.37 173.45 L61.96 173.21 L63.53 172.93 L65.10 172.60 L66.60 172.05 L67.98 171.24 L69.12 170.12 L70.08 168.84 L70.73 167.37 L71.32 165.89 L71.92 164.40 L72.48 162.90 L73.07 161.42 L73.71 159.95 L74.36 158.49 L75.06 157.05 L75.84 155.66 L76.70 154.30 L77.64 153.01 L78.67 151.94 L79.75 150.74 L80.83 149.69 L81.93 148.71 L83.06 146.30 L84.28 146.03 L85.54 145.47 L86.84 145.21 L88.22 143.82 L89.65 142.52 L91.14 143.03 L92.69 142.24 L94.27 142.01 L95.87 141.23 L97.47 142.15 L98.93 141.86 L100.51 140.17 L101.96 140.88 L103.36 143.05 L104.82 142.21 L106.35 143.67 L107.89 143.58 L109.49 144.87 L111.09 145.21 L112.69 143.84 L114.28 145.00 L115.83 144.15 L117.33 145.65 L118.75 145.84 L120.14 146.84 L121.59 148.47 L123.14 148.13 L124.74 147.54 L126.33 147.54 L127.91 147.57 L129.34 148.28 L130.55 150.48 L131.79 151.16 L133.04 153.24 L134.35 153.68 L135.80 154.54 L137.21 153.60 L138.50 155.44 L139.75 156.26 L140.97 156.94 L142.17 158.53 L143.29 160.42 L144.40 161.86 L145.52 161.32 L146.69 162.35 L147.95 165.06 L149.26 164.89 L150.61 166.53 L152.02 167.75 L153.46 166.69 L154.94 167.37 L156.43 168.64 L157.94 169.06 L159.38 169.56" stroke="#00a64f" stroke-width="2.1" fill="none" stroke-linejoin="round" clip-path="url(#cpe)"/>
<path d="M42.78 173.78 L44.38 173.77 L45.98 173.76 L47.58 173.76 L49.18 173.75 L50.78 173.75 L52.38 173.72 L53.98 173.68 L55.58 173.63 L57.17 173.50 L58.67 172.94 L60.12 172.25 L61.54 171.52 L63.00 170.86 L64.45 170.19 L65.72 169.22 L66.81 168.04 L67.80 166.79 L68.64 165.43 L69.42 164.03 L70.14 162.60 L70.83 161.16 L71.53 159.72 L72.23 158.28 L72.90 156.83 L73.60 155.39 L74.36 153.98 L75.22 152.63 L76.29 151.44 L77.50 150.40 L78.76 149.41 L80.08 148.85 L81.42 147.04 L82.80 146.78 L84.18 145.51 L85.61 144.86 L87.08 145.14 L88.62 143.83 L90.19 143.45 L91.79 143.22 L93.38 144.05 L94.96 145.07 L96.53 144.50 L98.09 145.84 L99.64 144.48 L101.17 146.11 L102.69 145.63 L104.21 146.95 L105.73 147.47 L107.26 147.64 L108.76 147.71 L110.23 149.36 L111.64 149.32 L113.05 150.02 L114.56 149.93 L116.13 150.94 L117.72 151.28 L119.30 150.88 L120.88 151.08 L122.46 152.04 L124.02 152.94 L125.56 152.12 L127.07 154.10 L128.51 154.72 L129.78 155.87 L131.06 157.07 L132.47 156.16 L133.91 157.41 L135.33 159.20 L136.72 160.05 L138.05 159.58 L139.37 160.22 L140.70 161.29 L142.02 163.55 L143.33 163.40 L144.68 164.10 L146.06 164.51 L147.48 166.83 L148.92 166.99 L150.38 167.21 L151.85 167.98 L153.34 168.77 L154.84 168.80 L156.35 169.50 L157.87 170.03 L159.38 170.65" stroke="#0000ff" stroke-width="2.1" fill="none" stroke-linejoin="round" clip-path="url(#cpe)"/>
<path d="M42.78 173.78 L44.38 173.80 L45.98 173.83 L47.58 173.85 L49.18 173.88 L50.78 173.88 L52.38 173.88 L53.98 173.80 L55.56 173.57 L56.90 172.68 L58.32 171.95 L59.88 171.61 L61.40 172.09 L62.92 172.62 L64.49 172.89 L65.98 172.30 L67.19 171.25 L67.93 169.84 L68.52 168.35 L69.03 166.83 L69.50 165.30 L69.98 163.77 L70.47 162.25 L70.97 160.73 L71.47 159.21 L71.98 157.70 L72.50 156.18 L73.00 154.66 L73.52 153.15 L74.08 151.65 L74.74 150.19 L75.69 148.91 L76.86 147.81 L78.12 146.83 L79.51 145.97 L80.85 144.51 L81.85 143.37 L82.68 142.91 L83.59 140.00 L84.58 138.67 L85.99 140.60 L87.58 138.84 L89.10 139.27 L90.65 141.28 L92.20 141.69 L93.74 142.40 L95.32 140.29 L96.91 142.52 L98.51 142.26 L100.09 140.30 L101.45 141.41 L102.73 145.03 L103.97 144.90 L105.24 146.32 L106.64 144.94 L108.21 147.36 L109.81 146.23 L111.25 146.69 L112.83 144.13 L114.31 144.63 L115.71 147.79 L117.12 147.87 L118.55 148.54 L119.99 149.59 L121.43 150.90 L122.85 150.35 L124.21 150.59 L125.53 152.33 L126.99 153.43 L128.59 151.54 L130.15 154.78 L131.55 153.34 L133.06 153.30 L134.62 154.33 L136.21 154.19 L137.73 155.91 L139.05 155.43 L140.31 157.93 L141.69 156.89 L143.13 159.91 L144.56 160.57 L146.00 159.38 L147.43 162.55 L148.87 161.60 L150.25 162.62 L151.51 163.50 L152.82 165.51 L154.27 166.56 L155.85 165.09 L157.44 165.04 L158.98 164.98 L159.38 164.87" stroke="#ff0000" stroke-width="2.1" fill="none" stroke-linejoin="round" clip-path="url(#cpe)"/>
<path d="M170.25 173.76 L172.25 173.77 L174.25 173.77 L176.25 173.77 L178.25 173.78 L180.25 173.78 L182.25 173.78 L184.25 173.78 L186.25 173.78 L188.25 173.78 L190.25 173.78 L192.25 173.77 L194.25 173.77 L196.25 173.79 L198.01 172.84 L199.69 171.75 L201.35 170.64 L203.08 169.63 L204.83 168.67 L206.62 167.79 L208.49 167.10 L210.39 166.47 L212.33 165.62 L214.28 165.41 L216.25 164.72 L218.22 164.61 L220.19 164.64 L222.17 164.09 L224.16 164.33 L226.15 163.96 L228.14 163.72 L230.14 163.95 L232.14 163.22 L234.14 163.75 L236.14 163.71 L238.14 163.47 L240.13 164.52 L242.13 164.79 L244.12 164.30 L246.12 164.11 L248.12 164.74 L250.12 164.79 L252.11 165.30 L254.11 165.30 L256.10 165.27 L258.08 165.39 L260.07 165.65 L262.06 165.59 L264.06 166.15 L266.04 165.60 L268.03 166.54 L270.01 166.57 L271.95 166.90 L273.87 167.77 L275.76 168.37 L277.67 168.96 L279.63 169.38 L281.59 169.74 L283.57 170.05 L285.54 170.36 L287.38 170.62" stroke="#86430f" stroke-width="2.1" fill="none" stroke-linejoin="round" clip-path="url(#cpf)"/>
<path d="M170.25 173.76 L172.25 173.77 L174.25 173.77 L176.25 173.77 L178.25 173.78 L180.25 173.78 L182.25 173.78 L184.25 173.78 L186.25 173.78 L188.25 173.78 L190.25 173.77 L192.25 173.76 L194.25 173.75 L196.23 173.47 L197.99 172.52 L199.69 171.46 L201.38 170.40 L203.09 169.36 L204.85 168.41 L206.66 167.55 L208.53 166.90 L210.45 166.23 L212.38 165.83 L214.35 165.39 L216.33 165.38 L218.31 164.58 L220.29 164.34 L222.28 164.72 L224.27 164.01 L226.27 163.82 L228.27 163.83 L230.27 164.15 L232.27 164.30 L234.27 164.03 L236.26 164.25 L238.26 164.60 L240.25 164.40 L242.25 164.41 L244.25 164.55 L246.25 164.68 L248.24 164.93 L250.24 164.96 L252.23 164.80 L254.22 165.17 L256.19 165.41 L258.16 166.23 L260.12 166.14 L262.09 166.73 L264.05 167.00 L266.01 167.83 L267.96 168.35 L269.92 168.27 L271.87 168.93 L273.83 169.25 L275.78 169.71 L277.74 170.10 L279.71 170.47 L281.68 170.80 L283.65 171.13 L285.63 171.44 L287.38 171.72" stroke="#00a64f" stroke-width="2.1" fill="none" stroke-linejoin="round" clip-path="url(#cpf)"/>
<path d="M170.25 173.76 L172.25 173.75 L174.25 173.75 L176.25 173.74 L178.25 173.73 L180.25 173.72 L182.25 173.71 L184.25 173.70 L186.25 173.68 L188.25 173.65 L190.25 173.62 L192.25 173.54 L194.15 172.93 L196.03 172.23 L197.86 171.44 L199.57 170.40 L201.32 169.43 L203.13 168.57 L204.98 167.82 L206.86 167.14 L208.76 166.50 L210.69 166.07 L212.64 165.36 L214.60 165.40 L216.58 165.17 L218.57 164.40 L220.56 164.35 L222.56 164.62 L224.56 164.51 L226.56 164.25 L228.56 164.48 L230.55 164.31 L232.53 164.59 L234.52 164.91 L236.50 165.19 L238.48 165.45 L240.46 165.69 L242.45 165.94 L244.43 166.28 L246.42 166.47 L248.42 166.90 L250.40 167.03 L252.38 167.20 L254.35 167.41 L256.31 167.99 L258.26 168.38 L260.22 168.66 L262.19 169.46 L264.15 169.33 L266.11 169.75 L268.07 170.21 L270.03 170.92 L271.99 171.10 L273.95 171.58 L275.92 171.87 L277.91 172.12 L279.89 172.36 L281.88 172.60 L283.86 172.84 L285.85 173.09 L287.38 173.28" stroke="#0000ff" stroke-width="2.1" fill="none" stroke-linejoin="round" clip-path="url(#cpf)"/>
<path d="M170.25 173.76 L172.25 173.77 L174.25 173.79 L176.25 173.81 L178.25 173.82 L180.25 173.83 L182.25 173.83 L184.25 173.83 L186.25 173.80 L188.25 173.78 L190.25 173.66 L192.07 172.84 L193.98 172.23 L195.87 171.58 L197.59 170.57 L199.16 169.32 L200.81 168.20 L202.56 167.22 L204.43 166.54 L206.36 165.99 L208.33 165.63 L210.30 165.14 L212.27 164.63 L214.24 164.24 L216.22 164.21 L218.22 164.39 L220.21 164.06 L222.21 164.36 L224.21 163.48 L226.21 163.78 L228.21 163.42 L230.21 163.95 L232.18 163.96 L234.14 164.93 L236.13 164.52 L238.12 165.00 L240.12 164.98 L242.12 165.86 L244.11 165.33 L246.10 166.03 L248.10 165.74 L250.08 166.13 L252.07 166.22 L254.05 166.82 L256.02 167.21 L257.99 167.26 L259.96 167.83 L261.93 168.20 L263.90 168.64 L265.87 168.59 L267.84 168.80 L269.81 169.76 L271.78 169.50 L273.76 170.02 L275.74 170.31 L277.72 170.59 L279.71 170.78 L281.70 170.90 L283.70 170.94 L285.70 170.95 L287.38 170.94" stroke="#ff0000" stroke-width="2.1" fill="none" stroke-linejoin="round" clip-path="url(#cpf)"/>
<path d="M297.25 174.12 L299.65 174.12 L302.05 174.11 L304.45 174.11 L306.85 174.10 L309.25 174.10 L311.65 174.09 L314.05 174.09 L316.45 174.09 L318.85 174.11 L321.25 174.12 L323.65 174.16 L325.61 175.54 L327.57 176.93 L329.54 178.30 L331.53 179.64 L333.60 180.86 L335.77 181.88 L337.99 182.79 L340.28 183.42 L342.62 184.35 L345.00 184.13 L347.39 184.95 L349.79 184.17 L352.18 185.11 L354.58 184.73 L356.97 185.31 L359.37 184.49 L361.77 185.71 L364.17 184.88 L366.57 185.55 L368.97 184.71 L371.37 185.61 L373.76 184.30 L376.16 185.24 L378.56 184.62 L380.96 184.94 L383.35 184.33 L385.75 185.19 L388.14 183.99 L390.53 184.49 L392.92 183.63 L395.30 183.54 L397.65 183.05 L399.97 182.42 L402.31 181.88 L404.67 181.45 L407.03 181.03 L409.39 180.59 L411.74 180.13 L413.59 179.75" stroke="#86430f" stroke-width="2.1" fill="none" stroke-linejoin="round" clip-path="url(#cpg)"/>
<path d="M297.25 174.12 L299.65 174.12 L302.05 174.11 L304.45 174.11 L306.85 174.10 L309.25 174.10 L311.65 174.09 L314.05 174.09 L316.45 174.09 L318.85 174.11 L321.25 174.14 L323.61 174.56 L325.66 175.81 L327.63 177.19 L329.57 178.59 L331.57 179.92 L333.67 181.08 L335.87 182.04 L338.15 182.79 L340.48 183.35 L342.84 184.04 L345.23 183.60 L347.62 184.48 L350.01 184.24 L352.41 184.81 L354.80 184.54 L357.20 185.03 L359.60 184.48 L362.00 185.14 L364.40 184.49 L366.80 184.98 L369.20 184.47 L371.59 184.86 L373.98 184.21 L376.37 184.50 L378.76 183.65 L381.14 184.03 L383.52 183.14 L385.89 183.22 L388.25 182.07 L390.59 182.14 L392.93 181.30 L395.28 180.92 L397.64 180.49 L400.00 180.08 L402.37 179.69 L404.74 179.32 L407.12 179.00 L409.50 178.69 L411.88 178.40 L413.59 178.19" stroke="#00a64f" stroke-width="2.1" fill="none" stroke-linejoin="round" clip-path="url(#cpg)"/>
<path d="M297.25 174.12 L299.65 174.12 L302.05 174.11 L304.45 174.11 L306.85 174.10 L309.25 174.09 L311.65 174.09 L314.05 174.09 L316.45 174.11 L318.85 174.12 L321.25 174.19 L323.27 175.48 L325.21 176.89 L327.05 178.43 L329.03 179.80 L331.14 180.93 L333.35 181.87 L335.65 182.57 L337.98 183.14 L340.33 183.55 L342.71 184.09 L345.10 183.86 L347.49 184.57 L349.89 184.21 L352.29 184.81 L354.69 184.17 L357.09 184.56 L359.49 184.26 L361.89 184.49 L364.29 184.16 L366.68 184.34 L369.08 183.71 L371.47 183.93 L373.85 183.15 L376.23 183.24 L378.60 182.48 L380.96 182.52 L383.31 181.62 L385.65 181.63 L387.97 180.51 L390.31 180.47 L392.68 179.73 L395.04 179.38 L397.41 178.96 L399.77 178.55 L402.14 178.15 L404.51 177.78 L406.88 177.42 L409.26 177.11 L411.65 176.84 L413.59 176.62" stroke="#0000ff" stroke-width="2.1" fill="none" stroke-linejoin="round" clip-path="url(#cpg)"/>
<path d="M297.25 173.81 L299.65 173.80 L302.05 173.79 L304.45 173.78 L306.85 173.77 L309.25 173.76 L311.65 173.76 L314.05 173.76 L316.45 173.78 L318.85 173.81 L321.24 173.99 L322.94 175.68 L324.36 177.62 L325.94 179.43 L327.88 180.84 L330.13 181.66 L332.47 182.19 L334.81 182.73 L337.15 183.27 L339.49 183.79 L341.86 183.80 L344.10 181.83 L346.22 184.03 L348.53 182.52 L350.81 184.38 L353.16 183.35 L355.55 184.58 L357.95 183.41 L360.34 184.72 L362.74 183.52 L365.14 185.28 L367.53 183.75 L369.92 184.67 L372.30 183.24 L374.69 184.12 L377.09 182.32 L379.48 183.41 L381.88 182.07 L384.27 183.01 L386.66 182.16 L389.04 182.99 L391.43 181.51 L393.82 181.92 L396.22 181.69 L398.62 181.55 L401.01 181.37 L403.39 181.09 L405.77 180.75 L408.14 180.40 L410.52 180.09 L412.91 179.83 L413.59 179.75" stroke="#ff0000" stroke-width="2.1" fill="none" stroke-linejoin="round" clip-path="url(#cpg)"/>
<path d="M425.25 174.22 L427.65 174.22 L430.05 174.22 L432.45 174.21 L434.85 174.21 L437.25 174.21 L439.65 174.24 L442.05 174.26 L444.45 174.33 L446.84 174.49 L449.10 175.31 L451.07 176.67 L452.90 178.23 L454.65 179.87 L456.37 181.55 L458.05 183.26 L459.74 184.96 L461.44 186.66 L463.12 188.37 L464.76 190.12 L466.43 191.84 L468.35 193.16 L470.45 194.70 L472.61 195.24 L474.82 197.08 L477.06 196.76 L479.32 198.90 L481.61 198.21 L483.95 199.98 L486.29 199.21 L488.67 199.86 L491.04 198.91 L493.44 199.61 L495.82 199.22 L498.22 199.87 L500.51 198.56 L502.79 198.77 L505.11 196.71 L507.47 197.54 L509.87 196.28 L512.24 198.05 L514.56 197.61 L516.96 198.40 L519.31 197.24 L521.63 196.89 L523.97 196.33 L526.33 195.87 L528.67 195.36 L530.92 194.51 L533.14 193.61 L535.42 192.85 L537.69 192.08 L539.93 191.22 L541.38 190.62" stroke="#86430f" stroke-width="2.1" fill="none" stroke-linejoin="round" clip-path="url(#cph)"/>
<path d="M425.25 174.22 L427.65 174.21 L430.05 174.19 L432.45 174.18 L434.85 174.17 L437.25 174.18 L439.65 174.20 L442.05 174.29 L444.44 174.49 L446.81 174.88 L448.71 176.34 L450.40 178.04 L451.93 179.89 L453.45 181.75 L454.98 183.60 L456.53 185.43 L458.13 187.22 L459.87 188.88 L461.72 190.40 L463.66 191.81 L465.66 193.14 L467.69 194.37 L469.82 195.60 L472.01 196.39 L474.29 197.65 L476.62 197.58 L479.00 198.34 L481.39 198.12 L483.79 198.87 L486.19 198.09 L488.58 198.52 L490.98 197.78 L493.38 198.18 L495.78 197.53 L498.17 198.07 L500.57 197.23 L502.96 197.86 L505.36 196.98 L507.75 197.27 L510.13 196.71 L512.51 196.77 L514.87 195.99 L517.19 195.60 L519.43 194.45 L521.59 193.63 L523.70 192.45 L525.85 191.37 L528.00 190.30 L530.14 189.21 L532.26 188.09 L534.36 186.94 L536.45 185.76 L538.48 184.47 L540.46 183.12 L541.38 182.50" stroke="#00a64f" stroke-width="2.1" fill="none" stroke-linejoin="round" clip-path="url(#cph)"/>
<path d="M425.25 174.22 L427.65 174.23 L430.05 174.24 L432.45 174.25 L434.85 174.27 L437.25 174.29 L439.65 174.31 L442.05 174.36 L444.45 174.45 L446.58 175.55 L448.52 176.97 L450.19 178.69 L451.59 180.64 L452.98 182.59 L454.42 184.52 L455.93 186.38 L457.55 188.15 L459.28 189.82 L461.30 191.12 L463.36 192.34 L465.47 193.48 L467.65 194.47 L469.86 195.49 L472.10 196.10 L474.42 197.24 L476.79 196.98 L479.18 197.70 L481.55 197.76 L483.94 198.35 L486.34 197.87 L488.73 198.00 L491.13 197.42 L493.52 197.81 L495.91 197.03 L498.30 197.39 L500.69 196.54 L503.08 196.88 L505.46 196.00 L507.83 196.05 L510.17 195.35 L512.48 194.94 L514.69 193.58 L516.86 193.01 L518.98 191.57 L521.12 190.66 L523.26 189.50 L525.41 188.45 L527.62 187.50 L529.84 186.58 L532.00 185.55 L534.08 184.35 L536.15 183.13 L538.33 182.12 L540.56 181.25 L541.38 180.94" stroke="#0000ff" stroke-width="2.1" fill="none" stroke-linejoin="round" clip-path="url(#cph)"/>
<path d="M425.25 174.22 L427.65 174.20 L430.05 174.18 L432.45 174.17 L434.85 174.20 L437.25 174.31 L439.55 174.98 L441.94 175.23 L444.33 175.48 L446.65 176.07 L448.73 177.27 L450.36 179.04 L451.72 181.01 L453.04 183.02 L454.34 185.03 L455.70 187.01 L457.15 188.93 L458.84 190.62 L460.97 191.73 L463.23 192.54 L465.53 193.25 L467.66 194.24 L470.05 194.85 L472.39 193.39 L474.49 196.00 L476.81 193.66 L478.99 195.89 L481.38 194.98 L483.77 196.37 L485.67 196.65 L488.05 197.84 L490.42 196.06 L492.82 197.91 L495.18 196.72 L497.54 198.09 L499.92 196.60 L502.15 198.98 L504.24 196.60 L506.33 196.56 L508.67 194.55 L511.07 195.90 L513.47 194.38 L515.85 195.90 L518.24 194.18 L520.61 194.43 L522.98 193.97 L525.33 193.52 L527.68 193.01 L529.98 192.32 L532.04 191.09 L534.39 190.63 L536.78 190.87 L539.11 190.30 L541.22 189.15 L541.38 189.06" stroke="#ff0000" stroke-width="2.1" fill="none" stroke-linejoin="round" clip-path="url(#cph)"/>
<path d="M42.78 271.20 L44.12 272.07 L45.46 272.96 L46.80 273.83 L48.14 274.71 L49.50 275.54 L50.86 276.38 L52.29 277.12 L53.79 277.66 L55.39 277.61 L56.95 277.28 L58.55 277.13 L60.15 277.09 L61.74 277.00 L63.32 276.76 L64.81 276.16 L65.98 275.07 L66.87 273.74 L67.49 272.27 L67.99 270.75 L68.44 269.21 L68.88 267.67 L69.32 266.13 L69.77 264.60 L70.23 263.07 L70.70 261.54 L71.16 260.01 L71.63 258.48 L72.13 256.96 L72.70 255.46 L73.36 254.00 L74.11 252.59 L74.97 251.24 L75.93 249.96 L76.98 248.75 L78.24 247.77 L79.64 247.10 L81.04 246.04 L82.38 245.97 L83.71 243.35 L85.04 242.67 L86.36 242.32 L87.68 241.73 L88.77 241.27 L89.69 239.03 L90.50 237.68 L91.36 235.45 L92.94 237.09 L94.00 238.72 L95.09 238.27 L96.52 240.47 L97.95 241.18 L99.07 242.70 L100.32 243.11 L101.73 244.82 L103.15 243.71 L104.59 244.01 L106.02 246.29 L107.45 245.65 L108.88 246.61 L110.30 248.91 L111.69 248.80 L113.12 249.25 L114.69 249.71 L116.16 248.86 L117.70 249.02 L118.62 250.68 L119.54 252.25 L120.91 254.09 L122.36 252.47 L123.91 252.31 L124.77 252.49 L125.68 255.35 L127.21 256.82 L128.57 253.66 L129.93 255.27 L131.52 253.98 L132.50 256.06 L133.34 256.14 L134.23 257.18 L135.52 258.32 L136.99 259.27 L138.36 261.17 L139.64 261.69 L140.90 263.12 L142.16 263.33 L143.40 263.08 L144.60 266.13 L145.74 267.10 L146.74 267.41 L147.71 269.21 L148.73 269.97 L149.77 270.95 L150.98 272.83 L152.34 273.28 L153.90 274.08 L155.45 273.44 L156.98 274.20 L158.40 275.54 L159.38 275.97" stroke="#86430f" stroke-width="2.1" fill="none" stroke-linejoin="round" clip-path="url(#cpi)"/>
<path d="M42.78 272.45 L44.19 273.21 L45.59 273.99 L46.99 274.76 L48.40 275.52 L49.84 276.21 L51.33 276.81 L52.81 277.40 L54.40 277.61 L55.96 277.28 L57.49 276.80 L59.00 276.27 L60.50 275.71 L61.97 275.08 L63.37 274.30 L64.76 273.52 L66.01 272.51 L66.97 271.24 L67.61 269.77 L68.13 268.25 L68.60 266.73 L69.06 265.20 L69.54 263.67 L70.03 262.14 L70.53 260.63 L71.03 259.11 L71.54 257.59 L72.09 256.09 L72.69 254.60 L73.38 253.16 L74.15 251.75 L75.01 250.41 L75.96 249.12 L77.02 247.92 L78.23 246.87 L79.52 245.80 L80.92 245.42 L82.35 244.97 L83.83 243.87 L85.37 243.48 L86.95 242.39 L88.53 244.04 L90.04 243.84 L91.54 244.08 L93.07 244.44 L94.63 244.66 L96.18 245.33 L97.74 246.19 L99.32 247.21 L100.82 246.79 L102.31 248.46 L103.80 248.91 L105.28 248.16 L106.76 249.51 L108.25 249.82 L109.75 250.94 L111.25 250.42 L112.74 250.50 L114.21 252.85 L115.64 252.75 L117.08 254.64 L118.45 254.55 L119.81 255.32 L121.17 256.42 L122.54 257.41 L123.92 257.48 L125.34 257.79 L126.78 258.80 L128.22 260.11 L129.67 259.89 L131.11 260.87 L132.52 260.91 L133.82 263.99 L135.09 264.72 L136.30 263.96 L137.47 266.19 L138.51 266.83 L139.53 268.02 L140.55 269.09 L141.62 270.05 L142.78 271.76 L144.08 273.89 L145.42 274.79 L146.80 274.35 L148.20 275.29 L149.61 276.87 L151.04 276.31 L152.51 277.83 L154.02 277.98 L155.58 277.93 L157.15 278.82 L158.73 279.06 L159.38 278.97" stroke="#00a64f" stroke-width="2.1" fill="none" stroke-linejoin="round" clip-path="url(#cpi)"/>
<path d="M42.78 273.08 L44.20 273.81 L45.62 274.56 L47.04 275.30 L48.46 276.03 L49.92 276.69 L51.42 277.23 L52.93 277.76 L54.50 277.44 L55.90 276.67 L57.09 275.60 L58.33 274.58 L59.55 273.55 L60.75 272.49 L61.98 271.47 L63.46 270.87 L64.82 270.02 L65.74 268.71 L66.34 267.23 L66.84 265.71 L67.31 264.18 L67.79 262.65 L68.28 261.13 L68.81 259.62 L69.34 258.11 L69.89 256.61 L70.48 255.12 L71.14 253.66 L71.89 252.25 L72.75 250.90 L73.72 249.63 L74.85 248.50 L76.10 247.50 L77.58 246.90 L79.09 246.25 L80.39 245.15 L81.61 244.76 L83.14 244.02 L84.73 244.54 L86.30 243.54 L87.85 245.72 L89.38 245.19 L90.89 244.88 L92.37 245.62 L93.84 246.10 L95.26 247.98 L96.66 249.49 L97.96 250.30 L99.17 250.89 L100.38 252.22 L101.58 251.94 L102.79 254.54 L104.06 254.69 L105.43 256.11 L106.96 256.04 L108.49 256.05 L109.98 257.61 L111.43 258.08 L112.86 257.91 L114.28 258.87 L115.70 260.66 L117.12 261.45 L118.55 260.77 L119.99 261.00 L121.50 263.41 L123.02 262.23 L124.53 263.86 L126.00 265.14 L127.46 264.92 L128.87 265.00 L130.25 265.75 L131.59 266.30 L132.91 268.47 L134.24 269.34 L135.56 270.37 L136.88 270.51 L138.22 271.51 L139.60 271.88 L141.02 274.11 L142.46 274.24 L143.89 274.25 L145.31 275.26 L146.74 275.84 L148.18 277.65 L149.67 278.07 L151.18 278.01 L152.72 278.37 L154.28 279.28 L155.85 279.59 L157.43 279.41 L159.01 279.70 L159.38 279.57" stroke="#0000ff" stroke-width="2.1" fill="none" stroke-linejoin="round" clip-path="url(#cpi)"/>
<path d="M42.78 274.33 L44.26 274.95 L45.75 275.53 L47.24 276.10 L48.73 276.68 L50.23 277.23 L51.77 277.67 L53.37 277.58 L54.79 276.84 L56.07 275.88 L57.14 274.69 L58.06 273.38 L58.93 272.03 L60.26 271.16 L61.70 271.87 L63.04 272.73 L64.52 272.11 L65.44 270.81 L66.11 269.35 L66.64 267.84 L67.11 266.31 L67.59 264.79 L68.09 263.27 L68.59 261.75 L69.10 260.23 L69.60 258.71 L70.11 257.19 L70.58 255.67 L71.05 254.14 L71.54 252.61 L72.10 251.11 L72.75 249.65 L73.51 248.24 L74.42 246.93 L75.40 245.67 L76.55 244.56 L77.85 243.62 L79.31 242.72 L80.81 242.94 L81.58 241.76 L82.38 238.53 L83.64 237.41 L85.23 239.65 L86.72 237.84 L87.97 238.74 L89.29 240.34 L90.75 240.74 L92.07 242.00 L93.23 242.81 L94.30 243.91 L95.74 243.93 L97.25 245.09 L98.81 245.32 L100.26 243.81 L101.44 247.46 L102.56 248.13 L103.66 248.68 L104.74 250.14 L105.92 252.34 L107.36 252.22 L108.93 252.60 L110.51 251.53 L112.04 252.87 L113.33 252.12 L114.43 256.13 L115.58 254.76 L116.86 255.48 L118.17 258.05 L119.54 258.43 L120.98 260.60 L122.52 258.59 L124.05 261.47 L125.42 261.47 L126.50 262.52 L127.66 264.80 L129.25 263.79 L130.79 261.88 L132.16 264.72 L133.24 264.72 L134.63 266.12 L136.18 265.55 L137.78 266.43 L138.95 267.04 L140.08 266.58 L141.36 269.71 L142.80 268.47 L144.25 269.14 L145.64 271.18 L146.99 270.60 L148.30 271.70 L149.64 273.85 L151.02 273.46 L152.43 275.10 L153.89 275.67 L155.40 277.33 L156.98 276.14 L158.56 277.03 L159.38 276.92" stroke="#ff0000" stroke-width="2.1" fill="none" stroke-linejoin="round" clip-path="url(#cpi)"/>
<path d="M170.25 277.04 L172.20 277.48 L174.15 277.94 L176.09 278.43 L178.03 278.88 L180.02 279.13 L182.02 279.06 L184.00 278.83 L185.99 278.60 L187.98 278.39 L189.98 278.30 L191.97 278.41 L193.93 277.99 L195.77 277.20 L197.47 276.16 L199.06 274.95 L200.54 273.60 L202.05 272.29 L203.81 271.33 L205.67 270.61 L207.63 270.20 L209.60 269.84 L211.56 269.16 L213.54 268.89 L215.54 269.18 L217.54 269.16 L219.54 268.75 L221.53 269.69 L223.53 269.63 L225.53 269.62 L227.52 269.90 L229.52 269.87 L231.51 269.62 L233.51 269.55 L235.51 270.00 L237.51 270.44 L239.50 270.72 L241.49 270.11 L243.49 270.41 L245.48 271.48 L247.47 271.18 L249.47 270.92 L251.46 271.90 L253.46 271.67 L255.44 271.48 L257.43 271.84 L259.41 272.20 L261.39 272.98 L263.35 272.78 L265.31 273.61 L267.25 273.42 L269.17 274.36 L271.09 274.88 L273.01 275.45 L274.95 276.03 L276.89 276.51 L278.84 276.94 L280.80 277.35 L282.76 277.76 L284.72 278.16 L286.59 278.55" stroke="#86430f" stroke-width="2.1" fill="none" stroke-linejoin="round" clip-path="url(#cpj)"/>
<path d="M170.25 277.04 L172.20 277.48 L174.15 277.94 L176.08 278.44 L178.03 278.89 L180.02 279.12 L182.01 279.00 L183.99 278.69 L185.97 278.42 L187.96 278.16 L189.94 277.90 L191.92 277.65 L193.83 277.06 L195.62 276.16 L197.35 275.16 L199.03 274.07 L200.70 272.97 L202.43 271.97 L204.31 271.29 L206.24 270.77 L208.19 270.29 L210.15 270.02 L212.12 269.65 L214.12 269.59 L216.12 269.74 L218.12 269.72 L220.12 269.48 L222.11 269.86 L224.10 270.16 L226.10 269.79 L228.09 270.53 L230.09 270.38 L232.09 270.40 L234.09 270.33 L236.08 270.32 L238.08 270.94 L240.07 270.98 L242.06 270.95 L244.05 271.00 L246.04 271.15 L248.03 271.64 L250.02 271.61 L252.01 272.07 L253.99 272.66 L255.97 272.50 L257.95 273.20 L259.91 273.57 L261.87 274.03 L263.83 274.47 L265.77 274.33 L267.69 274.97 L269.59 275.86 L271.50 276.30 L273.43 276.89 L275.38 277.34 L277.34 277.71 L279.31 278.08 L281.29 278.39 L283.26 278.69 L285.24 278.98 L286.59 279.18" stroke="#00a64f" stroke-width="2.1" fill="none" stroke-linejoin="round" clip-path="url(#cpj)"/>
<path d="M170.25 277.19 L172.20 277.64 L174.15 278.10 L176.08 278.59 L178.03 279.05 L180.02 279.28 L182.01 279.16 L183.99 278.85 L185.97 278.56 L187.94 278.24 L189.90 277.81 L191.77 277.12 L193.63 276.39 L195.47 275.60 L197.27 274.72 L198.99 273.70 L200.72 272.70 L202.57 271.94 L204.50 271.40 L206.44 270.93 L208.41 270.57 L210.38 270.28 L212.37 270.08 L214.37 269.71 L216.37 269.69 L218.36 270.33 L220.36 269.96 L222.35 270.66 L224.34 270.90 L226.33 270.60 L228.32 271.20 L230.31 271.41 L232.30 271.14 L234.29 271.40 L236.28 271.93 L238.27 271.88 L240.25 272.09 L242.22 272.70 L244.19 272.75 L246.16 273.35 L248.13 273.63 L250.11 274.11 L252.08 274.25 L254.05 274.37 L256.02 274.79 L257.98 275.20 L259.94 275.88 L261.89 276.38 L263.84 276.78 L265.80 277.17 L267.75 277.74 L269.70 277.82 L271.66 278.18 L273.63 278.68 L275.62 278.90 L277.61 279.08 L279.60 279.26 L281.60 279.38 L283.59 279.48 L285.59 279.59 L286.59 279.64" stroke="#0000ff" stroke-width="2.1" fill="none" stroke-linejoin="round" clip-path="url(#cpj)"/>
<path d="M170.25 276.88 L172.20 277.32 L174.14 277.80 L176.07 278.35 L178.00 278.85 L179.99 279.10 L181.98 278.93 L183.95 278.57 L185.92 278.25 L187.89 277.92 L189.86 277.54 L191.81 277.12 L193.71 276.50 L195.33 275.32 L196.83 274.01 L198.36 272.72 L200.01 271.58 L201.82 270.74 L203.73 270.14 L205.69 269.72 L207.66 269.41 L209.65 269.19 L211.65 269.27 L213.65 268.85 L215.65 268.92 L217.64 269.44 L219.57 269.26 L221.57 269.38 L223.57 269.77 L225.57 269.56 L227.54 270.39 L229.52 270.36 L231.52 270.27 L233.51 270.94 L235.51 270.77 L237.50 270.89 L239.49 270.69 L241.48 271.26 L243.47 271.28 L245.45 271.65 L247.43 271.75 L249.41 271.89 L251.38 272.98 L253.35 273.34 L255.32 273.11 L257.29 273.63 L259.27 274.10 L261.24 273.79 L263.22 274.56 L265.19 274.58 L267.15 274.88 L269.10 275.54 L271.05 276.32 L273.00 276.46 L274.97 276.97 L276.94 277.27 L278.93 277.49 L280.92 277.74 L282.88 278.10 L284.84 278.50 L286.59 278.86" stroke="#ff0000" stroke-width="2.1" fill="none" stroke-linejoin="round" clip-path="url(#cpj)"/>
<path d="M296.78 284.38 L298.93 283.31 L301.14 282.36 L303.41 281.59 L305.74 281.03 L308.11 280.65 L310.51 280.51 L312.91 280.48 L315.31 280.59 L317.70 280.77 L320.05 281.27 L322.19 282.35 L324.06 283.86 L325.95 285.33 L327.88 286.76 L329.93 288.01 L332.14 288.95 L334.42 289.69 L336.74 290.33 L339.06 290.88 L341.44 291.57 L343.84 291.01 L346.24 291.81 L348.64 290.82 L351.04 291.62 L353.43 290.32 L355.83 291.23 L358.23 290.26 L360.63 291.50 L363.03 290.02 L365.42 291.16 L367.82 289.91 L370.21 290.76 L372.60 289.44 L374.99 290.51 L377.37 288.78 L379.75 289.37 L382.14 288.17 L384.52 289.16 L386.90 287.49 L389.28 288.56 L391.65 287.28 L394.02 287.28 L396.39 286.84 L398.74 286.37 L401.08 285.81 L403.34 285.01 L405.55 284.07 L407.71 283.02 L409.90 282.05 L412.11 281.10 L413.59 280.47" stroke="#86430f" stroke-width="2.1" fill="none" stroke-linejoin="round" clip-path="url(#cpk)"/>
<path d="M296.78 284.22 L298.97 283.23 L301.20 282.34 L303.48 281.61 L305.81 281.04 L308.20 280.75 L310.59 280.65 L312.99 280.67 L315.39 280.77 L317.77 281.08 L320.07 281.78 L322.21 282.87 L324.11 284.33 L325.97 285.85 L327.92 287.25 L329.96 288.50 L332.18 289.42 L334.50 290.04 L336.85 290.51 L339.22 290.92 L341.61 291.09 L344.01 290.76 L346.41 291.16 L348.81 290.57 L351.20 291.07 L353.60 290.10 L355.99 290.69 L358.38 289.68 L360.77 290.04 L363.15 289.13 L365.53 289.56 L367.92 288.67 L370.30 289.01 L372.68 288.11 L375.06 288.27 L377.43 287.42 L379.80 287.76 L382.16 286.62 L384.52 286.60 L386.86 285.51 L389.21 285.50 L391.55 284.85 L393.90 284.44 L396.25 283.93 L398.61 283.46 L400.96 282.99 L403.31 282.52 L405.67 282.05 L408.02 281.58 L410.37 281.11 L412.73 280.64 L413.59 280.47" stroke="#00a64f" stroke-width="2.1" fill="none" stroke-linejoin="round" clip-path="url(#cpk)"/>
<path d="M296.78 284.06 L298.97 283.07 L301.19 282.18 L303.48 281.45 L305.82 280.90 L308.21 280.70 L310.61 280.64 L313.01 280.66 L315.40 280.86 L317.75 281.36 L319.98 282.24 L321.93 283.63 L323.79 285.15 L325.64 286.68 L327.72 287.88 L329.91 288.86 L332.19 289.61 L334.52 290.20 L336.89 290.61 L339.28 290.81 L341.67 290.96 L344.07 290.74 L346.47 290.95 L348.87 290.51 L351.25 290.75 L353.64 290.01 L356.02 290.10 L358.40 289.33 L360.78 289.41 L363.16 288.71 L365.54 288.89 L367.91 287.94 L370.27 287.95 L372.64 287.10 L374.99 287.27 L377.34 286.24 L379.69 286.13 L382.03 285.05 L384.37 285.12 L386.71 284.25 L389.06 283.97 L391.41 283.22 L393.77 282.94 L396.13 282.49 L398.50 282.11 L400.87 281.73 L403.23 281.33 L405.60 280.90 L407.96 280.50 L410.34 280.14 L412.71 279.81 L413.59 279.69" stroke="#0000ff" stroke-width="2.1" fill="none" stroke-linejoin="round" clip-path="url(#cpk)"/>
<path d="M296.78 284.69 L298.93 283.62 L301.13 282.66 L303.38 281.82 L305.70 281.21 L308.06 280.76 L310.46 280.70 L312.84 280.97 L315.23 281.24 L317.63 281.25 L319.85 282.16 L321.76 283.61 L323.46 285.30 L325.24 286.91 L327.22 288.26 L329.47 289.10 L331.77 289.79 L334.09 290.40 L336.44 290.90 L338.82 291.23 L341.21 291.70 L343.60 290.39 L345.99 291.89 L348.36 290.81 L350.73 291.26 L353.09 289.62 L355.48 290.78 L357.88 289.49 L360.27 290.56 L362.67 289.28 L365.05 290.04 L367.43 289.06 L369.79 289.79 L372.16 287.90 L374.53 288.90 L376.92 287.47 L379.30 287.92 L381.68 286.55 L384.06 287.97 L386.43 285.69 L388.80 286.98 L391.17 285.72 L393.53 285.60 L395.90 285.05 L398.26 284.66 L400.63 284.27 L403.00 283.89 L405.38 283.55 L407.75 283.18 L410.11 282.74 L412.46 282.26 L413.59 282.03" stroke="#ff0000" stroke-width="2.1" fill="none" stroke-linejoin="round" clip-path="url(#cpk)"/>
<path d="M424.78 292.56 L426.74 291.18 L428.70 289.79 L430.67 288.43 L432.67 287.09 L434.76 285.92 L436.95 284.93 L439.10 283.86 L441.31 282.94 L443.67 282.48 L446.06 282.74 L448.14 283.93 L449.73 285.73 L451.17 287.64 L452.53 289.62 L453.85 291.63 L455.19 293.62 L456.54 295.60 L457.99 297.52 L459.53 299.36 L461.20 301.08 L463.00 302.66 L465.10 303.82 L467.33 304.71 L469.63 305.17 L471.99 306.16 L474.36 305.67 L476.76 306.88 L479.16 306.03 L481.55 306.78 L483.93 305.14 L486.32 306.66 L488.72 305.74 L490.99 305.81 L493.31 304.03 L495.69 304.98 L498.07 303.41 L500.40 303.66 L502.68 301.98 L504.97 302.63 L507.28 300.56 L509.63 300.92 L512.03 299.91 L514.42 301.34 L516.82 300.59 L519.20 300.93 L521.50 299.73 L523.69 298.97 L525.70 297.65 L527.57 296.16 L529.50 294.72 L531.47 293.35 L533.50 292.07 L535.63 290.97 L537.78 289.92 L539.93 288.85 L541.38 288.12" stroke="#86430f" stroke-width="2.1" fill="none" stroke-linejoin="round" clip-path="url(#cpl)"/>
<path d="M424.78 292.56 L426.78 291.23 L428.78 289.91 L430.79 288.59 L432.81 287.30 L434.84 286.02 L437.07 285.14 L439.47 284.95 L441.86 285.07 L444.25 285.31 L446.59 285.87 L448.53 287.27 L450.24 288.97 L451.77 290.82 L453.09 292.82 L454.41 294.82 L455.86 296.73 L457.40 298.57 L459.10 300.27 L460.93 301.82 L462.95 303.12 L465.09 304.20 L467.34 305.04 L469.73 305.22 L472.12 305.75 L474.52 305.25 L476.92 306.02 L479.32 305.18 L481.71 305.90 L484.10 305.00 L486.45 304.90 L488.70 303.69 L490.96 303.40 L493.30 302.21 L495.65 302.52 L498.00 301.50 L500.33 301.34 L502.59 299.92 L504.79 299.66 L506.98 298.14 L509.24 297.87 L511.49 296.47 L513.70 296.03 L515.85 294.44 L517.99 293.70 L520.18 292.37 L522.43 291.76 L524.67 290.88 L526.88 289.94 L529.03 288.87 L531.17 287.77 L533.31 286.70 L535.46 285.63 L537.60 284.55 L539.73 283.43 L541.38 282.50" stroke="#00a64f" stroke-width="2.1" fill="none" stroke-linejoin="round" clip-path="url(#cpl)"/>
<path d="M424.78 292.56 L426.80 291.26 L428.82 289.97 L430.84 288.68 L432.88 287.40 L434.90 286.11 L437.10 285.14 L439.50 285.14 L441.88 285.43 L444.22 285.95 L446.39 286.97 L448.24 288.51 L449.79 290.34 L451.15 292.31 L452.50 294.30 L453.92 296.23 L455.43 298.10 L457.14 299.78 L459.06 301.22 L461.11 302.48 L463.23 303.60 L465.46 304.47 L467.78 305.11 L470.17 305.39 L472.57 305.24 L474.97 305.66 L477.37 304.99 L479.76 305.39 L482.15 304.67 L484.53 304.90 L486.87 303.79 L489.09 303.44 L491.31 301.90 L493.54 301.56 L495.77 300.14 L497.98 299.62 L500.18 298.39 L502.35 297.70 L504.50 296.11 L506.64 295.65 L508.78 293.93 L510.92 293.36 L513.06 291.89 L515.20 291.12 L517.34 289.75 L519.52 289.00 L521.71 287.92 L523.92 287.00 L526.14 286.09 L528.37 285.20 L530.63 284.39 L532.89 283.60 L535.17 282.84 L537.45 282.09 L539.73 281.33 L541.38 280.78" stroke="#0000ff" stroke-width="2.1" fill="none" stroke-linejoin="round" clip-path="url(#cpl)"/>
<path d="M424.78 292.88 L426.76 291.52 L428.75 290.17 L430.73 288.82 L432.74 287.51 L434.78 286.24 L436.95 285.22 L439.34 284.97 L441.73 285.10 L444.10 285.50 L446.32 286.41 L448.14 287.98 L449.68 289.82 L451.09 291.76 L452.42 293.75 L453.73 295.76 L455.03 297.78 L456.39 299.76 L457.91 301.62 L459.67 303.25 L461.71 304.51 L463.98 305.29 L466.29 305.96 L468.69 305.85 L470.79 304.91 L473.18 304.16 L475.58 305.15 L477.97 304.17 L480.33 305.02 L482.68 303.13 L485.01 304.01 L487.36 301.98 L489.75 303.41 L492.15 301.93 L494.52 302.51 L496.87 301.10 L499.14 301.60 L501.48 299.24 L503.85 300.57 L506.22 298.80 L508.54 299.70 L510.83 297.92 L513.06 297.62 L515.18 295.61 L517.30 295.73 L519.64 294.01 L522.04 294.45 L524.40 293.99 L526.70 293.31 L528.97 292.52 L531.19 291.59 L533.36 290.58 L535.51 289.50 L537.65 288.42 L539.80 287.35 L541.38 286.56" stroke="#ff0000" stroke-width="2.1" fill="none" stroke-linejoin="round" clip-path="url(#cpl)"/>
<path d="M42.90 21.40V118.30M42.90 114.30H159.80M38.90 21.40H42.90M38.90 33.01H42.90M38.90 44.62H42.90M38.90 56.24H42.90M38.90 67.85H42.90M38.90 79.46H42.90M38.90 91.08H42.90M38.90 102.69H42.90M38.90 114.30H42.90M45.70 114.30V118.30M48.07 114.30V118.30M50.13 114.30V118.30M51.94 114.30V118.30M53.56 114.30V118.30M64.22 114.30V118.30M70.46 114.30V118.30M74.88 114.30V118.30M78.31 114.30V118.30M81.12 114.30V118.30M83.49 114.30V118.30M85.54 114.30V118.30M87.35 114.30V118.30M88.97 114.30V118.30M99.63 114.30V118.30M105.87 114.30V118.30M110.29 114.30V118.30M113.73 114.30V118.30M116.53 114.30V118.30M118.90 114.30V118.30M120.95 114.30V118.30M122.77 114.30V118.30M124.39 114.30V118.30M135.05 114.30V118.30M141.28 114.30V118.30M145.71 114.30V118.30M149.14 114.30V118.30M151.94 114.30V118.30M154.31 114.30V118.30M156.37 114.30V118.30M158.18 114.30V118.30M159.80 114.30V118.30" stroke="#222" stroke-width="1" fill="none"/>
<text x="47.30" y="34.90" class="pl">(a)</text>
<path d="M170.50 20.90V117.90M170.50 113.90H287.00M166.50 20.90H170.50M166.50 32.52H170.50M166.50 44.15H170.50M166.50 55.77H170.50M166.50 67.40H170.50M166.50 79.03H170.50M166.50 90.65H170.50M166.50 102.28H170.50M166.50 113.90H170.50M173.29 113.90V117.90M175.66 113.90V117.90M177.70 113.90V117.90M179.51 113.90V117.90M181.12 113.90V117.90M191.75 113.90V117.90M197.96 113.90V117.90M202.37 113.90V117.90M205.79 113.90V117.90M208.59 113.90V117.90M210.95 113.90V117.90M213.00 113.90V117.90M214.80 113.90V117.90M216.42 113.90V117.90M227.04 113.90V117.90M233.25 113.90V117.90M237.66 113.90V117.90M241.08 113.90V117.90M243.88 113.90V117.90M246.24 113.90V117.90M248.29 113.90V117.90M250.09 113.90V117.90M251.71 113.90V117.90M262.33 113.90V117.90M268.55 113.90V117.90M272.96 113.90V117.90M276.38 113.90V117.90M279.17 113.90V117.90M281.53 113.90V117.90M283.58 113.90V117.90M285.39 113.90V117.90M287.00 113.90V117.90" stroke="#222" stroke-width="1" fill="none"/>
<text x="174.10" y="35.50" class="pl">(b)</text>
<path d="M297.30 20.90V118.10M297.30 114.10H414.00M293.30 20.90H297.30M293.30 32.55H297.30M293.30 44.20H297.30M293.30 55.85H297.30M293.30 67.50H297.30M293.30 79.15H297.30M293.30 90.80H297.30M293.30 102.45H297.30M293.30 114.10H297.30M300.10 114.10V118.10M302.47 114.10V118.10M304.52 114.10V118.10M306.32 114.10V118.10M307.94 114.10V118.10M318.58 114.10V118.10M324.81 114.10V118.10M329.23 114.10V118.10M332.65 114.10V118.10M335.45 114.10V118.10M337.82 114.10V118.10M339.87 114.10V118.10M341.68 114.10V118.10M343.29 114.10V118.10M353.94 114.10V118.10M360.16 114.10V118.10M364.58 114.10V118.10M368.01 114.10V118.10M370.80 114.10V118.10M373.17 114.10V118.10M375.22 114.10V118.10M377.03 114.10V118.10M378.65 114.10V118.10M389.29 114.10V118.10M395.51 114.10V118.10M399.93 114.10V118.10M403.36 114.10V118.10M406.16 114.10V118.10M408.52 114.10V118.10M410.57 114.10V118.10M412.38 114.10V118.10M414.00 114.10V118.10" stroke="#222" stroke-width="1" fill="none"/>
<text x="301.10" y="34.30" class="pl">(c)</text>
<path d="M425.30 21.30V118.50M425.30 114.50H541.80M421.30 21.30H425.30M421.30 32.95H425.30M421.30 44.60H425.30M421.30 56.25H425.30M421.30 67.90H425.30M421.30 79.55H425.30M421.30 91.20H425.30M421.30 102.85H425.30M421.30 114.50H425.30M428.09 114.50V118.50M430.46 114.50V118.50M432.50 114.50V118.50M434.31 114.50V118.50M435.92 114.50V118.50M446.55 114.50V118.50M452.76 114.50V118.50M457.17 114.50V118.50M460.59 114.50V118.50M463.39 114.50V118.50M465.75 114.50V118.50M467.80 114.50V118.50M469.60 114.50V118.50M471.22 114.50V118.50M481.84 114.50V118.50M488.05 114.50V118.50M492.46 114.50V118.50M495.88 114.50V118.50M498.68 114.50V118.50M501.04 114.50V118.50M503.09 114.50V118.50M504.89 114.50V118.50M506.51 114.50V118.50M517.13 114.50V118.50M523.35 114.50V118.50M527.76 114.50V118.50M531.18 114.50V118.50M533.97 114.50V118.50M536.33 114.50V118.50M538.38 114.50V118.50M540.19 114.50V118.50M541.80 114.50V118.50" stroke="#222" stroke-width="1" fill="none"/>
<text x="429.70" y="35.50" class="pl">(d)</text>
<path d="M42.30 127.20V224.30M42.30 220.30H159.00M38.30 127.20H42.30M38.30 138.84H42.30M38.30 150.47H42.30M38.30 162.11H42.30M38.30 173.75H42.30M38.30 185.39H42.30M38.30 197.03H42.30M38.30 208.66H42.30M38.30 220.30H42.30M45.10 220.30V224.30M47.47 220.30V224.30M49.52 220.30V224.30M51.32 220.30V224.30M52.94 220.30V224.30M63.58 220.30V224.30M69.81 220.30V224.30M74.23 220.30V224.30M77.65 220.30V224.30M80.45 220.30V224.30M82.82 220.30V224.30M84.87 220.30V224.30M86.68 220.30V224.30M88.29 220.30V224.30M98.94 220.30V224.30M105.16 220.30V224.30M109.58 220.30V224.30M113.01 220.30V224.30M115.80 220.30V224.30M118.17 220.30V224.30M120.22 220.30V224.30M122.03 220.30V224.30M123.65 220.30V224.30M134.29 220.30V224.30M140.51 220.30V224.30M144.93 220.30V224.30M148.36 220.30V224.30M151.16 220.30V224.30M153.52 220.30V224.30M155.57 220.30V224.30M157.38 220.30V224.30M159.00 220.30V224.30" stroke="#222" stroke-width="1" fill="none"/>
<text x="46.70" y="141.80" class="pl">(e)</text>
<path d="M169.50 127.20V224.30M169.50 220.30H285.90M165.50 127.20H169.50M165.50 138.84H169.50M165.50 150.47H169.50M165.50 162.11H169.50M165.50 173.75H169.50M165.50 185.39H169.50M165.50 197.03H169.50M165.50 208.66H169.50M165.50 220.30H169.50M172.29 220.30V224.30M174.65 220.30V224.30M176.70 220.30V224.30M178.50 220.30V224.30M180.11 220.30V224.30M190.73 220.30V224.30M196.94 220.30V224.30M201.34 220.30V224.30M204.76 220.30V224.30M207.55 220.30V224.30M209.91 220.30V224.30M211.96 220.30V224.30M213.76 220.30V224.30M215.38 220.30V224.30M225.99 220.30V224.30M232.20 220.30V224.30M236.61 220.30V224.30M240.02 220.30V224.30M242.82 220.30V224.30M245.18 220.30V224.30M247.22 220.30V224.30M249.02 220.30V224.30M250.64 220.30V224.30M261.25 220.30V224.30M267.46 220.30V224.30M271.87 220.30V224.30M275.29 220.30V224.30M278.08 220.30V224.30M280.44 220.30V224.30M282.48 220.30V224.30M284.29 220.30V224.30M285.90 220.30V224.30" stroke="#222" stroke-width="1" fill="none"/>
<text x="175.30" y="142.90" class="pl">(f)</text>
<path d="M296.70 127.80V224.50M296.70 220.50H413.70M292.70 127.80H296.70M292.70 139.39H296.70M292.70 150.97H296.70M292.70 162.56H296.70M292.70 174.15H296.70M292.70 185.74H296.70M292.70 197.32H296.70M292.70 208.91H296.70M292.70 220.50H296.70M299.51 220.50V224.50M301.88 220.50V224.50M303.93 220.50V224.50M305.75 220.50V224.50M307.37 220.50V224.50M318.04 220.50V224.50M324.28 220.50V224.50M328.71 220.50V224.50M332.14 220.50V224.50M334.95 220.50V224.50M337.32 220.50V224.50M339.38 220.50V224.50M341.19 220.50V224.50M342.81 220.50V224.50M353.48 220.50V224.50M359.72 220.50V224.50M364.15 220.50V224.50M367.59 220.50V224.50M370.39 220.50V224.50M372.77 220.50V224.50M374.82 220.50V224.50M376.63 220.50V224.50M378.26 220.50V224.50M388.93 220.50V224.50M395.17 220.50V224.50M399.60 220.50V224.50M403.03 220.50V224.50M405.84 220.50V224.50M408.21 220.50V224.50M410.27 220.50V224.50M412.08 220.50V224.50M413.70 220.50V224.50" stroke="#222" stroke-width="1" fill="none"/>
<text x="299.90" y="145.20" class="pl">(g)</text>
<path d="M424.30 127.80V224.50M424.30 220.50H541.00M420.30 127.80H424.30M420.30 139.39H424.30M420.30 150.97H424.30M420.30 162.56H424.30M420.30 174.15H424.30M420.30 185.74H424.30M420.30 197.32H424.30M420.30 208.91H424.30M420.30 220.50H424.30M427.10 220.50V224.50M429.47 220.50V224.50M431.52 220.50V224.50M433.32 220.50V224.50M434.94 220.50V224.50M445.58 220.50V224.50M451.81 220.50V224.50M456.23 220.50V224.50M459.65 220.50V224.50M462.45 220.50V224.50M464.82 220.50V224.50M466.87 220.50V224.50M468.68 220.50V224.50M470.29 220.50V224.50M480.94 220.50V224.50M487.16 220.50V224.50M491.58 220.50V224.50M495.01 220.50V224.50M497.80 220.50V224.50M500.17 220.50V224.50M502.22 220.50V224.50M504.03 220.50V224.50M505.65 220.50V224.50M516.29 220.50V224.50M522.51 220.50V224.50M526.93 220.50V224.50M530.36 220.50V224.50M533.16 220.50V224.50M535.52 220.50V224.50M537.57 220.50V224.50M539.38 220.50V224.50M541.00 220.50V224.50" stroke="#222" stroke-width="1" fill="none"/>
<text x="428.70" y="145.20" class="pl">(h)</text>
<path d="M42.70 233.30V330.30M42.70 326.30H159.90M38.70 233.30H42.70M38.70 244.93H42.70M38.70 256.55H42.70M38.70 268.18H42.70M38.70 279.80H42.70M38.70 291.43H42.70M38.70 303.05H42.70M38.70 314.68H42.70M38.70 326.30H42.70M45.51 326.30V330.30M47.89 326.30V330.30M49.95 326.30V330.30M51.76 326.30V330.30M53.39 326.30V330.30M64.08 326.30V330.30M70.33 326.30V330.30M74.76 326.30V330.30M78.20 326.30V330.30M81.02 326.30V330.30M83.39 326.30V330.30M85.45 326.30V330.30M87.27 326.30V330.30M88.89 326.30V330.30M99.58 326.30V330.30M105.83 326.30V330.30M110.27 326.30V330.30M113.71 326.30V330.30M116.52 326.30V330.30M118.90 326.30V330.30M120.96 326.30V330.30M122.77 326.30V330.30M124.40 326.30V330.30M135.08 326.30V330.30M141.34 326.30V330.30M145.77 326.30V330.30M149.21 326.30V330.30M152.02 326.30V330.30M154.40 326.30V330.30M156.46 326.30V330.30M158.28 326.30V330.30M159.90 326.30V330.30" stroke="#222" stroke-width="1" fill="none"/>
<text x="47.90" y="250.30" class="pl">(i)</text>
<path d="M169.30 233.50V330.50M169.30 326.50H285.70M165.30 233.50H169.30M165.30 245.12H169.30M165.30 256.75H169.30M165.30 268.38H169.30M165.30 280.00H169.30M165.30 291.62H169.30M165.30 303.25H169.30M165.30 314.88H169.30M165.30 326.50H169.30M172.09 326.50V330.50M174.45 326.50V330.50M176.50 326.50V330.50M178.30 326.50V330.50M179.91 326.50V330.50M190.53 326.50V330.50M196.74 326.50V330.50M201.14 326.50V330.50M204.56 326.50V330.50M207.35 326.50V330.50M209.71 326.50V330.50M211.76 326.50V330.50M213.56 326.50V330.50M215.18 326.50V330.50M225.79 326.50V330.50M232.00 326.50V330.50M236.41 326.50V330.50M239.82 326.50V330.50M242.62 326.50V330.50M244.98 326.50V330.50M247.02 326.50V330.50M248.82 326.50V330.50M250.44 326.50V330.50M261.05 326.50V330.50M267.26 326.50V330.50M271.67 326.50V330.50M275.09 326.50V330.50M277.88 326.50V330.50M280.24 326.50V330.50M282.28 326.50V330.50M284.09 326.50V330.50M285.70 326.50V330.50" stroke="#222" stroke-width="1" fill="none"/>
<text x="174.00" y="250.30" class="pl">(j)</text>
<path d="M296.10 233.30V329.50M296.10 325.50H412.90M292.10 233.30H296.10M292.10 244.83H296.10M292.10 256.35H296.10M292.10 267.88H296.10M292.10 279.40H296.10M292.10 290.93H296.10M292.10 302.45H296.10M292.10 313.98H296.10M292.10 325.50H296.10M298.90 325.50V329.50M301.27 325.50V329.50M303.32 325.50V329.50M305.13 325.50V329.50M306.75 325.50V329.50M317.40 325.50V329.50M323.63 325.50V329.50M328.05 325.50V329.50M331.48 325.50V329.50M334.28 325.50V329.50M336.65 325.50V329.50M338.71 325.50V329.50M340.52 325.50V329.50M342.13 325.50V329.50M352.79 325.50V329.50M359.02 325.50V329.50M363.44 325.50V329.50M366.87 325.50V329.50M369.67 325.50V329.50M372.04 325.50V329.50M374.09 325.50V329.50M375.90 325.50V329.50M377.52 325.50V329.50M388.17 325.50V329.50M394.40 325.50V329.50M398.82 325.50V329.50M402.25 325.50V329.50M405.05 325.50V329.50M407.42 325.50V329.50M409.47 325.50V329.50M411.28 325.50V329.50M412.90 325.50V329.50" stroke="#222" stroke-width="1" fill="none"/>
<text x="299.90" y="250.00" class="pl">(k)</text>
<path d="M425.30 232.90V329.60M425.30 325.60H541.70M421.30 232.90H425.30M421.30 244.49H425.30M421.30 256.07H425.30M421.30 267.66H425.30M421.30 279.25H425.30M421.30 290.84H425.30M421.30 302.43H425.30M421.30 314.01H425.30M421.30 325.60H425.30M428.09 325.60V329.60M430.45 325.60V329.60M432.50 325.60V329.60M434.30 325.60V329.60M435.91 325.60V329.60M446.53 325.60V329.60M452.74 325.60V329.60M457.14 325.60V329.60M460.56 325.60V329.60M463.35 325.60V329.60M465.71 325.60V329.60M467.76 325.60V329.60M469.56 325.60V329.60M471.18 325.60V329.60M481.79 325.60V329.60M488.00 325.60V329.60M492.41 325.60V329.60M495.82 325.60V329.60M498.62 325.60V329.60M500.98 325.60V329.60M503.02 325.60V329.60M504.82 325.60V329.60M506.44 325.60V329.60M517.05 325.60V329.60M523.26 325.60V329.60M527.67 325.60V329.60M531.09 325.60V329.60M533.88 325.60V329.60M536.24 325.60V329.60M538.28 325.60V329.60M540.09 325.60V329.60M541.70 325.60V329.60" stroke="#222" stroke-width="1" fill="none"/>
<text x="429.70" y="249.20" class="pl">(l)</text>
<text x="31.30" y="25.20" class="yl">2</text>
<text x="31.30" y="48.42" class="yl">1.5</text>
<text x="31.30" y="71.65" class="yl">1</text>
<text x="31.30" y="94.88" class="yl">0.5</text>
<text x="31.30" y="118.10" class="yl">0</text>
<text x="30.70" y="131.00" class="yl">2</text>
<text x="30.70" y="154.28" class="yl">1.5</text>
<text x="30.70" y="177.55" class="yl">1</text>
<text x="30.70" y="200.83" class="yl">0.5</text>
<text x="30.70" y="224.10" class="yl">0</text>
<text x="31.10" y="237.10" class="yl">2</text>
<text x="31.10" y="260.35" class="yl">1.5</text>
<text x="31.10" y="283.60" class="yl">1</text>
<text x="31.10" y="306.85" class="yl">0.5</text>
<text x="31.10" y="330.10" class="yl">0</text>
<text transform="translate(10.9,67.25) rotate(-90)" class="yt">DRFa</text>
<text transform="translate(14.3,173.15) rotate(-90)" class="yt">DRFd</text>
<text transform="translate(14.3,279.20) rotate(-90)" class="yt">DRFv</text>
<text x="53.39" y="344.0" class="xl">0.01</text>
<text x="88.89" y="344.0" class="xl">0.1</text>
<text x="124.40" y="344.0" class="xl">1</text>
<text x="159.90" y="344.0" class="xl">10</text>
<text x="101.30" y="356.6" class="xl pd">Period (s)</text>
<text x="179.91" y="344.0" class="xl">0.01</text>
<text x="215.18" y="344.0" class="xl">0.1</text>
<text x="250.44" y="344.0" class="xl">1</text>
<text x="285.70" y="344.0" class="xl">10</text>
<text x="227.50" y="356.6" class="xl pd">Period (s)</text>
<text x="306.75" y="344.0" class="xl">0.01</text>
<text x="342.13" y="344.0" class="xl">0.1</text>
<text x="377.52" y="344.0" class="xl">1</text>
<text x="412.90" y="344.0" class="xl">10</text>
<text x="354.50" y="356.6" class="xl pd">Period (s)</text>
<text x="435.91" y="344.0" class="xl">0.01</text>
<text x="471.18" y="344.0" class="xl">0.1</text>
<text x="506.44" y="344.0" class="xl">1</text>
<text x="541.70" y="344.0" class="xl">10</text>
<text x="483.50" y="356.6" class="xl pd">Period (s)</text>
<rect x="76.50" y="4.30" width="46.70" height="13.90" fill="#a8a8a8"/>
<rect x="75.50" y="3.30" width="46.70" height="13.90" fill="#fff" stroke="#c8c8c8" stroke-width="1"/>
<text x="101.10" y="14.10" class="tt">ξ = 1.0%</text>
<rect x="204.50" y="3.50" width="45.80" height="13.80" fill="#a8a8a8"/>
<rect x="203.50" y="2.50" width="45.80" height="13.80" fill="#fff" stroke="#c8c8c8" stroke-width="1"/>
<text x="228.25" y="12.90" class="tt">ξ = 3.0%</text>
<rect x="334.50" y="3.80" width="43.00" height="13.60" fill="#a8a8a8"/>
<rect x="333.50" y="2.80" width="43.00" height="13.60" fill="#fff" stroke="#c8c8c8" stroke-width="1"/>
<text x="356.90" y="13.10" class="tt">ξ = 10%</text>
<rect x="462.50" y="4.70" width="43.00" height="13.50" fill="#a8a8a8"/>
<rect x="461.50" y="3.70" width="43.00" height="13.50" fill="#fff" stroke="#c8c8c8" stroke-width="1"/>
<text x="484.75" y="14.10" class="tt">ξ = 30%</text>
<rect x="66.1" y="362.6" width="462.3" height="17.6" fill="#a8a8a8"/>
<rect x="65.1" y="361.6" width="462.3" height="17.6" fill="#fff" stroke="#c8c8c8" stroke-width="1"/>
<path d="M67.3 369.9H99.6" stroke="#000" stroke-width="1.8"/>
<text x="107.7" y="373.8" class="lg">DRF for ξ = 5%</text>
<path d="M189.2 369.9H221.5" stroke="#ff0000" stroke-width="1.8"/>
<text x="229.8" y="373.8" class="lg">Class A</text>
<path d="M275.5 369.9H307.1" stroke="#0000ff" stroke-width="1.8"/>
<text x="315.4" y="373.8" class="lg">Class B</text>
<path d="M361.1 369.9H393.2" stroke="#00a64f" stroke-width="1.8"/>
<text x="401.3" y="373.8" class="lg">Class C</text>
<path d="M447.6 369.9H479.4" stroke="#86430f" stroke-width="1.8"/>
<text x="487.6" y="373.8" class="lg">Class D</text>
</svg>
</body></html>
